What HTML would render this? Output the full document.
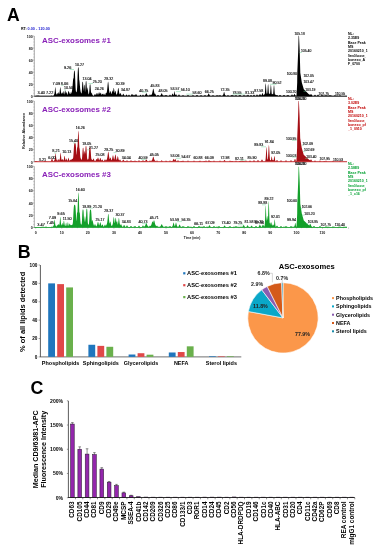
<!DOCTYPE html>
<html><head><meta charset="utf-8"><title>Figure</title>
<style>
html,body{margin:0;padding:0;background:#fff;}
body{width:378px;height:550px;overflow:hidden;}
svg{display:block;font-family:"Liberation Sans",Arial,sans-serif;}
</style></head><body>
<svg width="378" height="550" viewBox="0 0 378 550">
<rect x="0" y="0" width="378" height="550" fill="#fff"/>
<text x="7.00" y="20.60" font-size="17.60" font-weight="bold" fill="#000" text-anchor="start">A</text>
<text x="17.70" y="257.80" font-size="17.80" font-weight="bold" fill="#000" text-anchor="start">B</text>
<text x="30.60" y="393.50" font-size="17.80" font-weight="bold" fill="#000" text-anchor="start">C</text>
<text x="21.00" y="30.20" font-size="4.10" font-weight="bold" fill="#000" text-anchor="start" textLength="5.60" lengthAdjust="spacingAndGlyphs">RT:</text>
<text x="27.60" y="30.20" font-size="4.10" font-weight="bold" fill="#2020d0" text-anchor="start" textLength="22.40" lengthAdjust="spacingAndGlyphs">0.00 - 120.00</text>
<path d="M34.60 96.30 L34.60 95.78 L34.80 95.76 L35.00 95.74 L35.20 95.72 L35.40 95.71 L35.60 95.69 L35.80 95.67 L36.00 95.66 L36.20 95.64 L36.40 95.62 L36.60 95.60 L36.80 95.60 L37.00 95.60 L37.20 95.60 L37.40 95.60 L37.60 95.60 L37.80 95.61 L38.00 95.61 L38.20 95.61 L38.40 95.61 L38.60 95.61 L38.80 95.62 L39.00 95.62 L39.20 95.62 L39.40 95.63 L39.60 95.65 L39.80 95.66 L40.00 95.67 L40.20 95.68 L40.40 95.69 L40.60 95.71 L40.80 95.72 L41.00 95.73 L41.20 95.74 L41.40 95.76 L41.60 95.77 L41.80 95.77 L42.00 95.76 L42.20 95.76 L42.40 95.75 L42.60 95.75 L42.80 95.74 L43.00 95.74 L43.20 95.73 L43.40 95.72 L43.60 95.72 L43.80 95.71 L44.00 95.71 L44.20 95.70 L44.40 95.70 L44.60 95.70 L44.80 95.70 L45.00 95.71 L45.20 95.71 L45.40 95.71 L45.60 95.71 L45.80 95.71 L46.00 95.71 L46.20 95.71 L46.40 95.71 L46.60 95.71 L46.80 95.71 L47.00 95.71 L47.20 95.70 L47.40 95.70 L47.60 95.69 L47.80 95.69 L48.00 95.68 L48.20 95.68 L48.40 95.67 L48.60 95.67 L48.80 95.66 L49.00 95.66 L49.20 95.65 L49.40 95.65 L49.60 95.65 L49.80 95.64 L50.00 95.64 L50.20 95.64 L50.40 95.63 L50.60 95.63 L50.80 95.63 L51.00 95.62 L51.20 95.62 L51.40 95.62 L51.60 95.62 L51.80 95.62 L52.00 95.64 L52.20 95.66 L52.40 95.67 L52.60 95.69 L52.80 95.71 L53.00 95.72 L53.20 95.74 L53.40 95.66 L53.60 95.41 L53.80 95.11 L54.00 94.77 L54.20 94.36 L54.40 93.80 L54.60 92.84 L54.80 91.16 L55.00 88.91 L55.20 87.16 L55.40 87.16 L55.60 88.91 L55.80 91.16 L56.00 92.84 L56.20 93.80 L56.40 94.36 L56.60 94.77 L56.80 94.26 L57.00 93.56 L57.20 93.07 L57.40 93.07 L57.60 93.56 L57.80 94.26 L58.00 94.38 L58.20 93.45 L58.40 92.45 L58.60 92.00 L58.80 92.45 L59.00 93.45 L59.20 94.05 L59.40 93.39 L59.60 92.29 L59.80 90.61 L60.00 88.67 L60.20 87.30 L60.40 87.30 L60.60 88.67 L60.80 90.61 L61.00 92.29 L61.20 93.39 L61.40 94.05 L61.60 93.54 L61.80 92.81 L62.00 92.50 L62.20 92.81 L62.40 93.54 L62.60 93.54 L62.80 92.46 L63.00 91.43 L63.20 91.00 L63.40 91.43 L63.60 92.46 L63.80 93.54 L64.00 94.35 L64.20 94.41 L64.40 93.78 L64.60 92.85 L64.80 91.74 L65.00 90.78 L65.20 90.40 L65.40 90.78 L65.60 91.74 L65.80 92.85 L66.00 93.78 L66.20 92.76 L66.40 91.92 L66.60 91.92 L66.80 92.76 L67.00 93.84 L67.20 94.64 L67.40 94.74 L67.60 94.27 L67.80 93.55 L68.00 92.57 L68.20 91.56 L68.40 90.89 L68.60 90.89 L68.80 91.56 L69.00 92.57 L69.20 93.55 L69.40 94.06 L69.60 93.18 L69.80 92.35 L70.00 92.00 L70.20 92.35 L70.40 93.18 L70.60 94.06 L70.80 94.04 L71.00 93.66 L71.20 93.25 L71.40 92.80 L71.60 92.28 L71.80 91.65 L72.00 90.78 L72.20 89.56 L72.40 87.84 L72.60 85.61 L72.80 83.03 L73.00 80.53 L73.20 78.68 L73.40 78.00 L73.60 78.68 L73.80 74.58 L74.00 71.82 L74.20 70.68 L74.40 70.50 L74.60 70.68 L74.80 71.82 L75.00 74.58 L75.20 78.90 L75.40 83.80 L75.60 87.93 L75.80 90.53 L76.00 91.79 L76.20 92.34 L76.40 92.23 L76.60 91.87 L76.80 91.23 L77.00 89.68 L77.20 86.36 L77.40 81.17 L77.60 75.32 L77.80 70.64 L78.00 68.08 L78.20 67.33 L78.40 67.33 L78.60 68.08 L78.80 70.64 L79.00 75.32 L79.20 80.00 L79.40 80.61 L79.60 82.25 L79.80 84.48 L80.00 86.78 L80.20 88.77 L80.40 90.30 L80.60 91.39 L80.80 92.15 L81.00 92.72 L81.20 93.18 L81.40 93.58 L81.60 93.32 L81.80 91.53 L82.00 88.26 L82.20 84.67 L82.40 82.35 L82.60 81.63 L82.80 81.63 L83.00 82.35 L83.20 84.67 L83.40 88.26 L83.60 91.53 L83.80 88.54 L84.00 85.79 L84.20 84.84 L84.40 84.84 L84.60 85.79 L84.80 88.54 L85.00 91.90 L85.20 91.34 L85.40 87.93 L85.60 84.19 L85.80 81.78 L86.00 81.03 L86.20 81.03 L86.40 81.78 L86.60 84.19 L86.80 87.93 L87.00 90.80 L87.20 88.91 L87.40 87.59 L87.60 87.59 L87.80 88.91 L88.00 90.80 L88.20 92.42 L88.40 93.49 L88.60 94.12 L88.80 94.38 L89.00 93.85 L89.20 92.37 L89.40 89.68 L89.60 86.72 L89.80 84.82 L90.00 84.23 L90.20 84.23 L90.40 84.82 L90.60 86.72 L90.80 89.68 L91.00 92.37 L91.20 93.85 L91.40 93.15 L91.60 92.58 L91.80 92.58 L92.00 93.15 L92.20 93.95 L92.40 94.64 L92.60 95.10 L92.80 95.37 L93.00 95.55 L93.20 95.69 L93.40 95.77 L93.60 95.75 L93.80 95.63 L94.00 95.45 L94.20 95.19 L94.40 94.83 L94.60 94.44 L94.80 94.12 L95.00 94.00 L95.20 94.12 L95.40 94.44 L95.60 94.83 L95.80 95.19 L96.00 94.97 L96.20 94.56 L96.40 94.00 L96.60 93.38 L96.80 92.89 L97.00 92.70 L97.20 92.89 L97.40 93.38 L97.60 94.00 L97.80 94.56 L98.00 94.97 L98.20 94.57 L98.40 94.01 L98.60 93.33 L98.80 92.67 L99.00 92.26 L99.20 92.26 L99.40 92.67 L99.60 93.33 L99.80 94.01 L100.00 94.29 L100.20 93.69 L100.40 93.11 L100.60 92.75 L100.80 92.75 L101.00 93.11 L101.20 93.69 L101.40 94.29 L101.60 94.78 L101.80 94.91 L102.00 94.49 L102.20 94.09 L102.40 93.83 L102.60 93.83 L102.80 94.09 L103.00 94.49 L103.20 94.91 L103.40 94.51 L103.60 94.03 L103.80 93.65 L104.00 93.50 L104.20 93.65 L104.40 94.03 L104.60 94.51 L104.80 94.94 L105.00 95.27 L105.20 94.97 L105.40 94.43 L105.60 93.69 L105.80 92.99 L106.00 92.70 L106.20 92.99 L106.40 93.19 L106.60 92.66 L106.80 91.94 L107.00 90.89 L107.20 89.36 L107.40 87.35 L107.60 85.07 L107.80 83.01 L108.00 81.77 L108.20 81.77 L108.40 83.01 L108.60 85.07 L108.80 87.35 L109.00 89.36 L109.20 90.89 L109.40 91.94 L109.60 92.66 L109.80 93.19 L110.00 92.91 L110.20 92.01 L110.40 91.28 L110.60 91.00 L110.80 91.28 L111.00 92.01 L111.20 92.91 L111.40 93.73 L111.60 94.16 L111.80 93.40 L112.00 92.37 L112.20 91.30 L112.40 90.60 L112.60 90.60 L112.80 91.30 L113.00 92.37 L113.20 91.33 L113.40 89.73 L113.60 88.35 L113.80 87.80 L114.00 88.35 L114.20 89.73 L114.40 91.33 L114.60 92.67 L114.80 93.03 L115.00 91.97 L115.20 91.06 L115.40 90.70 L115.60 91.06 L115.80 91.97 L116.00 93.03 L116.20 93.91 L116.40 94.50 L116.60 94.72 L116.80 94.43 L117.00 94.07 L117.20 93.54 L117.40 92.72 L117.60 91.56 L117.80 90.13 L118.00 88.77 L118.20 87.92 L118.40 87.92 L118.60 88.77 L118.80 90.13 L119.00 91.56 L119.20 92.72 L119.40 93.54 L119.60 94.07 L119.80 94.43 L120.00 93.91 L120.20 93.38 L120.40 93.05 L120.60 93.05 L120.80 93.38 L121.00 93.91 L121.20 94.46 L121.40 94.91 L121.60 95.23 L121.80 95.43 L122.00 95.58 L122.20 95.49 L122.40 95.25 L122.60 94.91 L122.80 94.49 L123.00 94.09 L123.20 93.83 L123.40 93.83 L123.60 94.09 L123.80 94.49 L124.00 94.91 L124.20 95.25 L124.40 95.49 L124.60 95.61 L124.80 95.62 L125.00 95.63 L125.20 95.63 L125.40 95.64 L125.60 95.54 L125.80 95.30 L126.00 94.99 L126.20 94.71 L126.40 94.52 L126.60 94.52 L126.80 94.71 L127.00 94.99 L127.20 95.30 L127.40 95.54 L127.60 95.67 L127.80 95.67 L128.00 95.67 L128.20 95.48 L128.40 95.21 L128.60 94.92 L128.80 94.69 L129.00 94.60 L129.20 94.69 L129.40 94.92 L129.60 95.21 L129.80 95.48 L130.00 95.67 L130.20 95.71 L130.40 95.72 L130.60 95.70 L130.80 95.57 L131.00 95.38 L131.20 95.09 L131.40 94.70 L131.60 94.28 L131.80 93.93 L132.00 93.80 L132.20 93.93 L132.40 94.28 L132.60 94.70 L132.80 95.09 L133.00 95.38 L133.20 95.57 L133.40 95.36 L133.60 94.99 L133.80 94.65 L134.00 94.50 L134.20 94.65 L134.40 94.99 L134.60 95.36 L134.80 95.56 L135.00 95.45 L135.20 95.19 L135.40 94.83 L135.60 94.44 L135.80 94.12 L136.00 94.00 L136.20 94.12 L136.40 94.44 L136.60 94.83 L136.80 95.19 L137.00 95.45 L137.20 95.63 L137.40 95.65 L137.60 95.67 L137.80 95.69 L138.00 95.71 L138.20 95.73 L138.40 95.74 L138.60 95.76 L138.80 95.78 L139.00 95.80 L139.20 95.81 L139.40 95.81 L139.60 95.67 L139.80 95.46 L140.00 95.21 L140.20 94.97 L140.40 94.82 L140.60 94.82 L140.80 94.97 L141.00 95.21 L141.20 95.46 L141.40 95.67 L141.60 95.75 L141.80 95.75 L142.00 95.67 L142.20 95.48 L142.40 95.21 L142.60 94.92 L142.80 94.69 L143.00 94.60 L143.20 94.69 L143.40 94.92 L143.60 95.21 L143.80 95.48 L144.00 95.64 L144.20 95.63 L144.40 95.63 L144.60 95.59 L144.80 95.47 L145.00 95.30 L145.20 95.07 L145.40 94.74 L145.60 94.34 L145.80 93.91 L146.00 93.54 L146.20 93.33 L146.40 93.33 L146.60 93.54 L146.80 93.91 L147.00 94.34 L147.20 94.74 L147.40 95.07 L147.60 95.30 L147.80 95.47 L148.00 95.59 L148.20 95.60 L148.40 95.59 L148.60 95.59 L148.80 95.58 L149.00 95.57 L149.20 95.43 L149.40 95.15 L149.60 94.84 L149.80 94.60 L150.00 94.50 L150.20 94.60 L150.40 94.84 L150.60 95.15 L150.80 95.27 L151.00 95.11 L151.20 94.92 L151.40 94.72 L151.60 94.48 L151.80 94.18 L152.00 93.75 L152.20 93.13 L152.40 92.30 L152.60 91.27 L152.80 90.17 L153.00 89.23 L153.20 88.67 L153.40 88.67 L153.60 89.23 L153.80 90.17 L154.00 91.27 L154.20 92.30 L154.40 93.13 L154.60 93.75 L154.80 93.65 L155.00 93.50 L155.20 93.65 L155.40 94.03 L155.60 94.51 L155.80 94.94 L156.00 95.27 L156.20 95.49 L156.40 95.63 L156.60 95.65 L156.80 95.65 L157.00 95.66 L157.20 95.57 L157.40 95.34 L157.60 95.09 L157.80 94.88 L158.00 94.80 L158.20 94.88 L158.40 95.09 L158.60 95.34 L158.80 95.57 L159.00 95.75 L159.20 95.76 L159.40 95.75 L159.60 95.75 L159.80 95.74 L160.00 95.67 L160.20 95.56 L160.40 95.41 L160.60 95.20 L160.80 94.88 L161.00 94.47 L161.20 94.01 L161.40 93.59 L161.60 93.33 L161.80 93.33 L162.00 93.59 L162.20 94.01 L162.40 94.47 L162.60 94.88 L162.80 95.20 L163.00 95.41 L163.20 95.56 L163.40 95.61 L163.60 95.61 L163.80 95.60 L164.00 95.59 L164.20 95.59 L164.40 95.59 L164.60 95.59 L164.80 95.59 L165.00 95.59 L165.20 95.57 L165.40 95.34 L165.60 95.09 L165.80 94.88 L166.00 94.80 L166.20 94.88 L166.40 95.09 L166.60 95.34 L166.80 95.57 L167.00 95.61 L167.20 95.62 L167.40 95.62 L167.60 95.63 L167.80 95.64 L168.00 95.65 L168.20 95.66 L168.40 95.67 L168.60 95.67 L168.80 95.68 L169.00 95.67 L169.20 95.48 L169.40 95.21 L169.60 94.92 L169.80 94.69 L170.00 94.60 L170.20 94.69 L170.40 94.92 L170.60 95.21 L170.80 95.48 L171.00 95.67 L171.20 95.68 L171.40 95.61 L171.60 95.42 L171.80 95.08 L172.00 94.57 L172.20 93.98 L172.40 93.56 L172.60 93.56 L172.80 93.98 L173.00 94.57 L173.20 95.08 L173.40 95.29 L173.60 94.95 L173.80 94.35 L174.00 93.20 L174.20 91.73 L174.40 91.00 L174.60 91.73 L174.80 93.20 L175.00 94.35 L175.20 94.95 L175.40 95.10 L175.60 94.63 L175.80 94.19 L176.00 94.00 L176.20 94.19 L176.40 94.63 L176.60 95.10 L176.80 95.45 L177.00 95.67 L177.20 95.74 L177.40 95.73 L177.60 95.72 L177.80 95.70 L178.00 95.64 L178.20 95.43 L178.40 95.15 L178.60 94.84 L178.80 94.60 L179.00 94.50 L179.20 94.60 L179.40 94.84 L179.60 95.15 L179.80 95.43 L180.00 95.64 L180.20 95.66 L180.40 95.67 L180.60 95.68 L180.80 95.68 L181.00 95.69 L181.20 95.70 L181.40 95.71 L181.60 95.72 L181.80 95.73 L182.00 95.73 L182.20 95.67 L182.40 95.47 L182.60 95.25 L182.80 95.07 L183.00 95.00 L183.20 95.07 L183.40 95.25 L183.60 95.47 L183.80 95.67 L184.00 95.79 L184.20 95.80 L184.40 95.79 L184.60 95.78 L184.80 95.77 L185.00 95.76 L185.20 95.75 L185.40 95.74 L185.60 95.73 L185.80 95.73 L186.00 95.72 L186.20 95.71 L186.40 95.70 L186.60 95.69 L186.80 95.68 L187.00 95.68 L187.20 95.62 L187.40 95.40 L187.60 95.17 L187.80 94.97 L188.00 94.90 L188.20 94.97 L188.40 95.17 L188.60 95.40 L188.80 95.62 L189.00 95.64 L189.20 95.64 L189.40 95.64 L189.60 95.64 L189.80 95.64 L190.00 95.64 L190.20 95.64 L190.40 95.64 L190.60 95.64 L190.80 95.64 L191.00 95.65 L191.20 95.65 L191.40 95.65 L191.60 95.65 L191.80 95.65 L192.00 95.66 L192.20 95.67 L192.40 95.47 L192.60 95.25 L192.80 95.07 L193.00 95.00 L193.20 95.07 L193.40 95.25 L193.60 95.47 L193.80 95.67 L194.00 95.73 L194.20 95.74 L194.40 95.74 L194.60 95.73 L194.80 95.73 L195.00 95.73 L195.20 95.73 L195.40 95.73 L195.60 95.73 L195.80 95.73 L196.00 95.72 L196.20 95.57 L196.40 95.34 L196.60 95.09 L196.80 94.88 L197.00 94.80 L197.20 94.88 L197.40 95.09 L197.60 95.34 L197.80 95.57 L198.00 95.71 L198.20 95.71 L198.40 95.70 L198.60 95.70 L198.80 95.70 L199.00 95.70 L199.20 95.70 L199.40 95.69 L199.60 95.68 L199.80 95.68 L200.00 95.67 L200.20 95.67 L200.40 95.47 L200.60 95.25 L200.80 95.07 L201.00 95.00 L201.20 95.07 L201.40 95.25 L201.60 95.47 L201.80 95.62 L202.00 95.63 L202.20 95.63 L202.40 95.64 L202.60 95.64 L202.80 95.65 L203.00 95.66 L203.20 95.66 L203.40 95.67 L203.60 95.68 L203.80 95.68 L204.00 95.69 L204.20 95.62 L204.40 95.40 L204.60 95.17 L204.80 94.97 L205.00 94.90 L205.20 94.97 L205.40 95.17 L205.60 95.40 L205.80 95.62 L206.00 95.72 L206.20 95.72 L206.40 95.73 L206.60 95.73 L206.80 95.73 L207.00 95.73 L207.20 95.69 L207.40 95.56 L207.60 95.39 L207.80 95.12 L208.00 94.74 L208.20 94.27 L208.40 93.82 L208.60 93.54 L208.80 93.54 L209.00 93.82 L209.20 94.27 L209.40 94.74 L209.60 95.12 L209.80 95.39 L210.00 95.56 L210.20 95.69 L210.40 95.77 L210.60 95.78 L210.80 95.79 L211.00 95.80 L211.20 95.81 L211.40 95.82 L211.60 95.84 L211.80 95.84 L212.00 95.82 L212.20 95.67 L212.40 95.47 L212.60 95.25 L212.80 95.07 L213.00 95.00 L213.20 95.07 L213.40 95.25 L213.60 95.47 L213.80 95.67 L214.00 95.82 L214.20 95.84 L214.40 95.82 L214.60 95.81 L214.80 95.79 L215.00 95.77 L215.20 95.76 L215.40 95.74 L215.60 95.73 L215.80 95.71 L216.00 95.69 L216.20 95.67 L216.40 95.47 L216.60 95.25 L216.80 95.07 L217.00 95.00 L217.20 95.07 L217.40 95.25 L217.60 95.47 L217.80 95.60 L218.00 95.60 L218.20 95.59 L218.40 95.58 L218.60 95.58 L218.80 95.57 L219.00 95.56 L219.20 95.56 L219.40 95.40 L219.60 95.17 L219.80 94.97 L220.00 94.90 L220.20 94.97 L220.40 95.17 L220.60 95.40 L220.80 95.62 L221.00 95.64 L221.20 95.65 L221.40 95.66 L221.60 95.67 L221.80 95.67 L222.00 95.68 L222.20 95.68 L222.40 95.62 L222.60 95.48 L222.80 95.31 L223.00 95.08 L223.20 94.72 L223.40 94.15 L223.60 93.39 L223.80 92.59 L224.00 92.07 L224.20 92.07 L224.40 92.59 L224.60 93.39 L224.80 94.15 L225.00 94.72 L225.20 95.08 L225.40 95.31 L225.60 95.48 L225.80 95.62 L226.00 95.74 L226.20 95.79 L226.40 95.79 L226.60 95.80 L226.80 95.79 L227.00 95.79 L227.20 95.67 L227.40 95.47 L227.60 95.25 L227.80 95.07 L228.00 95.00 L228.20 95.07 L228.40 95.25 L228.60 95.47 L228.80 95.67 L229.00 95.71 L229.20 95.70 L229.40 95.69 L229.60 95.68 L229.80 95.66 L230.00 95.65 L230.20 95.64 L230.40 95.63 L230.60 95.62 L230.80 95.61 L231.00 95.60 L231.20 95.57 L231.40 95.34 L231.60 95.09 L231.80 94.88 L232.00 94.80 L232.20 94.88 L232.40 95.09 L232.60 95.34 L232.80 95.57 L233.00 95.59 L233.20 95.59 L233.40 95.60 L233.60 95.60 L233.80 95.61 L234.00 95.61 L234.20 95.62 L234.40 95.62 L234.60 95.63 L234.80 95.64 L235.00 95.64 L235.20 95.62 L235.40 95.40 L235.60 95.17 L235.80 94.97 L236.00 94.90 L236.20 94.97 L236.40 95.17 L236.60 95.40 L236.80 95.62 L237.00 95.68 L237.20 95.67 L237.40 95.66 L237.60 95.65 L237.80 95.65 L238.00 95.64 L238.20 95.63 L238.40 95.62 L238.60 95.62 L238.80 95.61 L239.00 95.60 L239.20 95.57 L239.40 95.34 L239.60 95.09 L239.80 94.88 L240.00 94.80 L240.20 94.88 L240.40 95.09 L240.60 95.34 L240.80 95.57 L241.00 95.73 L241.20 95.74 L241.40 95.76 L241.60 95.77 L241.80 95.78 L242.00 95.77 L242.20 95.76 L242.40 95.76 L242.60 95.75 L242.80 95.74 L243.00 95.74 L243.20 95.62 L243.40 95.40 L243.60 95.17 L243.80 94.97 L244.00 94.90 L244.20 94.97 L244.40 95.17 L244.60 95.40 L244.80 95.62 L245.00 95.65 L245.20 95.64 L245.40 95.63 L245.60 95.62 L245.80 95.61 L246.00 95.60 L246.20 95.59 L246.40 95.58 L246.60 95.57 L246.80 95.57 L247.00 95.58 L247.20 95.53 L247.40 95.28 L247.60 95.00 L247.80 94.78 L248.00 94.70 L248.20 94.78 L248.40 95.00 L248.60 95.28 L248.80 95.53 L249.00 95.67 L249.20 95.68 L249.40 95.68 L249.60 95.68 L249.80 95.69 L250.00 95.69 L250.20 95.62 L250.40 95.40 L250.60 95.17 L250.80 94.97 L251.00 94.90 L251.20 94.97 L251.40 95.17 L251.60 95.40 L251.80 95.62 L252.00 95.72 L252.20 95.72 L252.40 95.73 L252.60 95.73 L252.80 95.74 L253.00 95.67 L253.20 95.48 L253.40 95.21 L253.60 94.92 L253.80 94.69 L254.00 94.60 L254.20 94.69 L254.40 94.92 L254.60 95.21 L254.80 95.48 L255.00 95.67 L255.20 95.74 L255.40 95.73 L255.60 95.72 L255.80 95.72 L256.00 95.64 L256.20 95.43 L256.40 95.15 L256.60 94.84 L256.80 94.60 L257.00 94.50 L257.20 94.60 L257.40 94.84 L257.60 95.15 L257.80 95.43 L258.00 95.62 L258.20 95.61 L258.40 95.60 L258.60 95.59 L258.80 95.58 L259.00 95.45 L259.20 95.19 L259.40 94.83 L259.60 94.44 L259.80 94.12 L260.00 94.00 L260.20 94.12 L260.40 94.44 L260.60 94.83 L260.80 95.19 L261.00 95.45 L261.20 95.43 L261.40 95.23 L261.60 94.91 L261.80 94.46 L262.00 93.91 L262.20 93.38 L262.40 93.05 L262.60 93.05 L262.80 93.38 L263.00 93.91 L263.20 94.46 L263.40 94.91 L263.60 95.23 L263.80 95.13 L264.00 94.78 L264.20 94.44 L264.40 94.23 L264.60 94.23 L264.80 94.07 L265.00 91.98 L265.20 88.92 L265.40 85.61 L265.60 83.41 L265.80 83.41 L266.00 85.61 L266.20 88.92 L266.40 91.98 L266.60 93.82 L266.80 93.54 L267.00 93.54 L267.20 93.82 L267.40 92.24 L267.60 89.37 L267.80 86.26 L268.00 84.19 L268.20 84.19 L268.40 86.26 L268.60 89.37 L268.80 92.24 L269.00 94.21 L269.20 93.82 L269.40 93.54 L269.60 93.54 L269.80 93.82 L270.00 94.27 L270.20 92.51 L270.40 89.81 L270.60 86.91 L270.80 84.97 L271.00 84.97 L271.20 86.91 L271.40 89.81 L271.60 92.51 L271.80 94.34 L272.00 94.28 L272.20 93.93 L272.40 93.80 L272.60 93.93 L272.80 94.28 L273.00 94.70 L273.20 93.64 L273.40 91.42 L273.60 88.60 L273.80 86.11 L274.00 85.10 L274.20 86.11 L274.40 88.60 L274.60 91.42 L274.80 93.64 L275.00 94.97 L275.20 94.71 L275.40 94.52 L275.60 94.52 L275.80 94.71 L276.00 94.99 L276.20 95.30 L276.40 95.34 L276.60 95.09 L276.80 94.88 L277.00 94.80 L277.20 94.88 L277.40 95.09 L277.60 95.34 L277.80 95.57 L278.00 95.69 L278.20 95.69 L278.40 95.69 L278.60 95.68 L278.80 95.68 L279.00 95.68 L279.20 95.57 L279.40 95.34 L279.60 95.09 L279.80 94.88 L280.00 94.80 L280.20 94.88 L280.40 95.09 L280.60 95.34 L280.80 95.57 L281.00 95.71 L281.20 95.71 L281.40 95.72 L281.60 95.72 L281.80 95.73 L282.00 95.74 L282.20 95.74 L282.40 95.75 L282.60 95.76 L282.80 95.77 L283.00 95.75 L283.20 95.57 L283.40 95.34 L283.60 95.09 L283.80 94.88 L284.00 94.80 L284.20 94.88 L284.40 95.09 L284.60 95.34 L284.80 95.57 L285.00 95.75 L285.20 95.74 L285.40 95.72 L285.60 95.70 L285.80 95.68 L286.00 95.66 L286.20 95.64 L286.40 95.62 L286.60 95.60 L286.80 95.59 L287.00 95.60 L287.20 95.57 L287.40 95.34 L287.60 95.09 L287.80 94.88 L288.00 94.80 L288.20 94.88 L288.40 95.09 L288.60 95.34 L288.80 95.57 L289.00 95.67 L289.20 95.68 L289.40 95.69 L289.60 95.70 L289.80 95.71 L290.00 95.71 L290.20 95.72 L290.40 95.73 L290.60 95.74 L290.80 95.75 L291.00 95.64 L291.20 95.43 L291.40 95.15 L291.60 94.84 L291.80 94.60 L292.00 94.50 L292.20 94.60 L292.40 94.84 L292.60 95.15 L292.80 95.43 L293.00 95.64 L293.20 95.70 L293.40 95.55 L293.60 95.33 L293.80 95.02 L294.00 94.63 L294.20 94.26 L294.40 94.03 L294.60 94.03 L294.80 94.26 L295.00 94.63 L295.20 95.02 L295.40 95.33 L295.60 95.55 L295.80 95.70 L296.00 95.70 L296.20 95.70 L296.40 95.70 L296.60 95.70 L296.80 95.71 L297.00 95.71 L297.20 95.71 L297.40 95.72 L297.60 95.72 L297.80 95.72 L298.00 95.72 L298.20 95.73 L298.40 95.73 L298.60 95.73 L298.80 95.74 L299.00 95.74 L299.20 95.74 L299.40 95.74 L299.60 95.74 L299.80 95.74 L300.00 95.74 L300.20 95.74 L300.40 95.74 L300.60 95.74 L300.80 95.75 L301.00 95.75 L301.20 95.75 L301.40 95.75 L301.60 95.75 L301.80 95.74 L302.00 95.74 L302.20 95.73 L302.40 95.73 L302.60 95.73 L302.80 95.72 L303.00 95.72 L303.20 95.71 L303.40 95.71 L303.60 95.70 L303.80 95.70 L304.00 95.69 L304.20 95.69 L304.40 95.69 L304.60 95.68 L304.80 95.68 L305.00 95.68 L305.20 95.68 L305.40 95.68 L305.60 95.67 L305.80 95.67 L306.00 95.67 L306.20 95.67 L306.40 95.67 L306.60 95.66 L306.80 95.66 L307.00 95.66 L307.20 95.66 L307.40 95.66 L307.60 95.66 L307.80 95.66 L308.00 95.66 L308.20 95.66 L308.40 95.67 L308.60 95.67 L308.80 95.67 L309.00 95.67 L309.20 95.67 L309.40 95.67 L309.60 95.61 L309.80 95.45 L310.00 95.24 L310.20 94.96 L310.40 94.63 L310.60 94.32 L310.80 94.09 L311.00 94.00 L311.20 94.09 L311.40 94.32 L311.60 94.63 L311.80 94.96 L312.00 95.24 L312.20 95.45 L312.40 95.61 L312.60 95.72 L312.80 95.77 L313.00 95.78 L313.20 95.79 L313.40 95.80 L313.60 95.81 L313.80 95.82 L314.00 95.71 L314.20 95.53 L314.40 95.28 L314.60 95.00 L314.80 94.78 L315.00 94.70 L315.20 94.78 L315.40 95.00 L315.60 95.28 L315.80 95.53 L316.00 95.71 L316.20 95.79 L316.40 95.79 L316.60 95.78 L316.80 95.78 L317.00 95.67 L317.20 95.48 L317.40 95.21 L317.60 94.92 L317.80 94.69 L318.00 94.60 L318.20 94.69 L318.40 94.92 L318.60 95.21 L318.80 95.48 L319.00 95.67 L319.20 95.80 L319.40 95.79 L319.60 95.78 L319.80 95.77 L320.00 95.76 L320.20 95.75 L320.40 95.74 L320.60 95.73 L320.80 95.72 L321.00 95.71 L321.20 95.57 L321.40 95.34 L321.60 95.09 L321.80 94.88 L322.00 94.80 L322.20 94.88 L322.40 95.09 L322.60 95.34 L322.80 95.57 L323.00 95.63 L323.20 95.62 L323.40 95.62 L323.60 95.61 L323.80 95.60 L324.00 95.60 L324.20 95.59 L324.40 95.59 L324.60 95.59 L324.80 95.60 L325.00 95.60 L325.20 95.60 L325.40 95.40 L325.60 95.17 L325.80 94.97 L326.00 94.90 L326.20 94.97 L326.40 95.17 L326.60 95.40 L326.80 95.61 L327.00 95.61 L327.20 95.61 L327.40 95.61 L327.60 95.61 L327.80 95.61 L328.00 95.61 L328.20 95.61 L328.40 95.61 L328.60 95.61 L328.80 95.61 L329.00 95.61 L329.20 95.61 L329.40 95.47 L329.60 95.25 L329.80 95.07 L330.00 95.00 L330.20 95.07 L330.40 95.25 L330.60 95.47 L330.80 95.61 L331.00 95.61 L331.20 95.61 L331.40 95.61 L331.60 95.61 L331.80 95.61 L332.00 95.63 L332.20 95.64 L332.40 95.65 L332.60 95.67 L332.80 95.68 L333.00 95.69 L333.20 95.71 L333.40 95.72 L333.60 95.73 L333.80 95.75 L334.00 95.76 L334.20 95.67 L334.40 95.47 L334.60 95.25 L334.80 95.07 L335.00 95.00 L335.20 95.07 L335.40 95.25 L335.60 95.47 L335.80 95.66 L336.00 95.65 L336.20 95.63 L336.40 95.62 L336.60 95.60 L336.80 95.60 L337.00 95.60 L337.20 95.61 L337.40 95.61 L337.60 95.62 L337.80 95.62 L338.00 95.62 L338.20 95.63 L338.40 95.63 L338.60 95.64 L338.80 95.64 L339.00 95.64 L339.20 95.65 L339.40 95.53 L339.60 95.33 L339.80 95.16 L340.00 95.10 L340.20 95.16 L340.40 95.33 L340.60 95.53 L340.80 95.72 L341.00 95.78 L341.20 95.79 L341.40 95.80 L341.60 95.82 L341.80 95.83 L342.00 95.83 L342.20 95.83 L342.40 95.83 L342.60 95.83 L342.80 95.83 L343.00 95.84 L343.20 95.84 L343.40 95.84 L343.60 95.84 L343.80 95.84 L344.00 95.84 L344.20 95.84 L344.40 95.85 L344.60 95.85 L344.80 95.85 L345.00 95.85 L345.20 95.85 L345.40 95.85 L345.60 95.85 L345.80 95.85 L346.00 95.85 L346.20 95.85 L346.40 95.85 L346.60 95.85 L346.80 95.84 L347.00 95.82 L347.00 96.30 Z" fill="#000000"/>
<path d="M296.40 96.30 L296.60 93.88 L296.90 89.34 L297.20 82.38 L297.30 72.70 L298.20 50.92 L298.60 35.80 L299.00 35.80 L299.70 50.92 L300.30 72.70 L301.80 82.38 L303.80 89.34 L308.60 93.88 L312.10 96.30 Z" fill="#000000"/>
<line x1="34.20" y1="96.30" x2="347.00" y2="96.30" stroke="#000000" stroke-width="0.70"/>
<line x1="34.30" y1="36.00" x2="34.30" y2="96.30" stroke="#555" stroke-width="0.50"/>
<line x1="33.00" y1="96.30" x2="34.20" y2="96.30" stroke="#444" stroke-width="0.35"/>
<line x1="33.50" y1="93.28" x2="34.20" y2="93.28" stroke="#444" stroke-width="0.35"/>
<line x1="33.50" y1="90.27" x2="34.20" y2="90.27" stroke="#444" stroke-width="0.35"/>
<line x1="33.50" y1="87.25" x2="34.20" y2="87.25" stroke="#444" stroke-width="0.35"/>
<line x1="33.00" y1="84.24" x2="34.20" y2="84.24" stroke="#444" stroke-width="0.35"/>
<line x1="33.50" y1="81.22" x2="34.20" y2="81.22" stroke="#444" stroke-width="0.35"/>
<line x1="33.50" y1="78.21" x2="34.20" y2="78.21" stroke="#444" stroke-width="0.35"/>
<line x1="33.50" y1="75.19" x2="34.20" y2="75.19" stroke="#444" stroke-width="0.35"/>
<line x1="33.00" y1="72.18" x2="34.20" y2="72.18" stroke="#444" stroke-width="0.35"/>
<line x1="33.50" y1="69.16" x2="34.20" y2="69.16" stroke="#444" stroke-width="0.35"/>
<line x1="33.50" y1="66.15" x2="34.20" y2="66.15" stroke="#444" stroke-width="0.35"/>
<line x1="33.50" y1="63.13" x2="34.20" y2="63.13" stroke="#444" stroke-width="0.35"/>
<line x1="33.00" y1="60.12" x2="34.20" y2="60.12" stroke="#444" stroke-width="0.35"/>
<line x1="33.50" y1="57.10" x2="34.20" y2="57.10" stroke="#444" stroke-width="0.35"/>
<line x1="33.50" y1="54.09" x2="34.20" y2="54.09" stroke="#444" stroke-width="0.35"/>
<line x1="33.50" y1="51.07" x2="34.20" y2="51.07" stroke="#444" stroke-width="0.35"/>
<line x1="33.00" y1="48.06" x2="34.20" y2="48.06" stroke="#444" stroke-width="0.35"/>
<line x1="33.50" y1="45.05" x2="34.20" y2="45.05" stroke="#444" stroke-width="0.35"/>
<line x1="33.50" y1="42.03" x2="34.20" y2="42.03" stroke="#444" stroke-width="0.35"/>
<line x1="33.50" y1="39.01" x2="34.20" y2="39.01" stroke="#444" stroke-width="0.35"/>
<line x1="33.00" y1="36.00" x2="34.20" y2="36.00" stroke="#444" stroke-width="0.35"/>
<text x="32.70" y="98.00" font-size="3.60" font-weight="bold" fill="#111" text-anchor="end">0</text>
<text x="32.70" y="85.94" font-size="3.60" font-weight="bold" fill="#111" text-anchor="end">20</text>
<text x="32.70" y="73.88" font-size="3.60" font-weight="bold" fill="#111" text-anchor="end">40</text>
<text x="32.70" y="61.82" font-size="3.60" font-weight="bold" fill="#111" text-anchor="end">60</text>
<text x="32.70" y="49.76" font-size="3.60" font-weight="bold" fill="#111" text-anchor="end">80</text>
<text x="32.70" y="37.70" font-size="3.60" font-weight="bold" fill="#111" text-anchor="end">100</text>
<path d="M34.60 161.80 L34.60 161.06 L34.80 161.06 L35.00 161.06 L35.20 161.06 L35.40 161.06 L35.60 161.06 L35.80 161.06 L36.00 161.06 L36.20 161.07 L36.40 161.07 L36.60 161.07 L36.80 161.08 L37.00 161.10 L37.20 161.12 L37.40 161.14 L37.60 161.16 L37.80 161.18 L38.00 161.20 L38.20 161.23 L38.40 161.25 L38.60 161.27 L38.80 161.29 L39.00 161.31 L39.20 161.33 L39.40 161.33 L39.60 161.33 L39.80 161.33 L40.00 161.33 L40.20 161.33 L40.40 161.33 L40.60 161.33 L40.80 161.33 L41.00 161.33 L41.20 161.33 L41.40 161.33 L41.60 161.32 L41.80 161.32 L42.00 161.30 L42.20 161.28 L42.40 161.26 L42.60 161.24 L42.80 161.23 L43.00 161.21 L43.20 161.19 L43.40 161.17 L43.60 161.15 L43.80 161.14 L44.00 161.12 L44.20 161.10 L44.40 161.10 L44.60 161.10 L44.80 161.11 L45.00 161.11 L45.20 161.11 L45.40 161.11 L45.60 161.12 L45.80 161.12 L46.00 161.12 L46.20 161.12 L46.40 161.13 L46.60 161.13 L46.80 161.13 L47.00 161.13 L47.20 161.13 L47.40 161.13 L47.60 161.14 L47.80 161.14 L48.00 161.14 L48.20 161.14 L48.40 161.14 L48.60 161.14 L48.80 161.15 L49.00 161.15 L49.20 161.15 L49.40 161.16 L49.60 161.17 L49.80 161.18 L50.00 161.18 L50.20 161.19 L50.40 161.20 L50.60 161.21 L50.80 161.05 L51.00 160.84 L51.20 160.53 L51.40 159.97 L51.60 159.08 L51.80 158.13 L52.00 157.70 L52.20 158.13 L52.40 159.08 L52.60 159.97 L52.80 160.53 L53.00 160.84 L53.20 161.05 L53.40 161.20 L53.60 161.19 L53.80 161.10 L54.00 160.85 L54.20 160.55 L54.40 160.20 L54.60 159.77 L54.80 159.11 L55.00 157.91 L55.20 156.02 L55.40 154.01 L55.60 153.10 L55.80 154.01 L56.00 156.02 L56.20 157.91 L56.40 159.11 L56.60 159.77 L56.80 160.20 L57.00 160.55 L57.20 160.85 L57.40 160.77 L57.60 160.34 L57.80 159.77 L58.00 159.23 L58.20 159.00 L58.40 159.23 L58.60 159.77 L58.80 160.34 L59.00 160.77 L59.20 160.45 L59.40 160.07 L59.60 159.61 L59.80 158.89 L60.00 157.60 L60.20 155.56 L60.40 153.38 L60.60 152.40 L60.80 153.38 L61.00 155.56 L61.20 157.60 L61.40 158.89 L61.60 159.61 L61.80 160.07 L62.00 160.07 L62.20 159.48 L62.40 159.06 L62.60 159.06 L62.80 159.48 L63.00 160.07 L63.20 160.58 L63.40 160.46 L63.60 160.12 L63.80 159.55 L64.00 158.63 L64.20 157.38 L64.40 156.20 L64.60 155.70 L64.80 156.20 L65.00 157.38 L65.20 158.63 L65.40 159.55 L65.60 160.12 L65.80 160.46 L66.00 159.94 L66.20 159.13 L66.40 158.49 L66.60 158.49 L66.80 159.13 L67.00 159.94 L67.20 160.55 L67.40 160.80 L67.60 160.50 L67.80 160.01 L68.00 159.26 L68.20 158.40 L68.40 157.79 L68.60 157.79 L68.80 158.40 L69.00 159.26 L69.20 160.01 L69.40 160.50 L69.60 160.68 L69.80 160.57 L70.00 160.38 L70.20 159.89 L70.40 159.55 L70.60 159.55 L70.80 159.89 L71.00 159.86 L71.20 159.73 L71.40 159.60 L71.60 159.47 L71.80 159.33 L72.00 159.21 L72.20 159.08 L72.40 158.95 L72.60 158.83 L72.80 158.69 L73.00 158.37 L73.20 157.49 L73.40 155.55 L73.60 152.55 L73.80 149.19 L74.00 146.35 L74.20 144.48 L74.40 143.53 L74.60 143.18 L74.80 143.11 L75.00 143.10 L75.20 143.13 L75.40 143.31 L75.60 143.91 L75.80 145.29 L76.00 147.66 L76.20 150.85 L76.40 154.15 L76.60 154.70 L76.80 151.82 L77.00 149.01 L77.20 147.24 L77.40 147.24 L77.60 145.11 L77.80 140.23 L78.00 135.45 L78.20 131.91 L78.40 130.60 L78.60 131.91 L78.80 135.45 L79.00 140.23 L79.20 145.11 L79.40 148.22 L79.60 148.22 L79.80 149.87 L80.00 152.49 L80.20 155.18 L80.40 157.31 L80.60 158.08 L80.80 158.59 L81.00 159.05 L81.20 159.47 L81.40 159.85 L81.60 159.69 L81.80 159.35 L82.00 158.42 L82.20 156.31 L82.40 153.18 L82.60 150.17 L82.80 148.37 L83.00 147.82 L83.20 147.82 L83.40 148.37 L83.60 150.17 L83.80 153.18 L84.00 154.88 L84.20 152.96 L84.40 151.53 L84.60 151.00 L84.80 151.53 L85.00 152.96 L85.20 153.82 L85.40 150.11 L85.60 147.27 L85.80 146.00 L86.00 145.80 L86.20 146.00 L86.40 147.27 L86.60 150.11 L86.80 153.82 L87.00 156.92 L87.20 158.60 L87.40 159.24 L87.60 159.51 L87.80 159.63 L88.00 159.50 L88.20 159.37 L88.40 159.03 L88.60 157.85 L88.80 155.24 L89.00 151.89 L89.20 149.16 L89.40 147.70 L89.60 147.19 L89.80 147.10 L90.00 147.10 L90.20 147.19 L90.40 147.70 L90.60 149.16 L90.80 151.89 L91.00 155.24 L91.20 157.85 L91.40 159.03 L91.60 159.37 L91.80 159.50 L92.00 159.63 L92.20 159.75 L92.40 159.88 L92.60 160.02 L92.80 159.96 L93.00 159.41 L93.20 158.88 L93.40 158.55 L93.60 158.55 L93.80 158.88 L94.00 159.41 L94.20 159.96 L94.40 160.41 L94.60 160.73 L94.80 160.93 L95.00 161.08 L95.20 161.06 L95.40 160.89 L95.60 160.62 L95.80 160.24 L96.00 159.77 L96.20 159.32 L96.40 159.04 L96.60 159.04 L96.80 159.32 L97.00 159.77 L97.20 159.49 L97.40 158.85 L97.60 158.19 L97.80 157.69 L98.00 157.50 L98.20 157.69 L98.40 158.19 L98.60 158.85 L98.80 159.49 L99.00 160.01 L99.20 160.39 L99.40 160.01 L99.60 159.49 L99.80 158.90 L100.00 158.36 L100.20 158.04 L100.40 158.04 L100.60 158.36 L100.80 158.90 L101.00 159.49 L101.20 160.01 L101.40 160.40 L101.60 160.52 L101.80 160.13 L102.00 159.76 L102.20 159.53 L102.40 159.53 L102.60 159.76 L102.80 160.13 L103.00 160.52 L103.20 160.83 L103.40 161.05 L103.60 161.20 L103.80 161.07 L104.00 160.88 L104.20 160.59 L104.40 160.20 L104.60 159.78 L104.80 159.43 L105.00 159.30 L105.20 159.43 L105.40 159.78 L105.60 160.20 L105.80 160.59 L106.00 160.46 L106.20 160.22 L106.40 159.96 L106.60 159.67 L106.80 159.30 L107.00 158.81 L107.20 158.08 L107.40 157.03 L107.60 155.65 L107.80 154.08 L108.00 152.67 L108.20 151.81 L108.40 151.81 L108.60 152.67 L108.80 154.08 L109.00 155.65 L109.20 157.03 L109.40 158.08 L109.60 158.81 L109.80 159.30 L110.00 158.68 L110.20 157.99 L110.40 157.56 L110.60 157.56 L110.80 157.99 L111.00 158.68 L111.20 159.40 L111.40 159.99 L111.60 160.22 L111.80 159.88 L112.00 159.37 L112.20 158.60 L112.40 157.58 L112.60 156.46 L112.80 155.55 L113.00 155.20 L113.20 155.55 L113.40 156.46 L113.60 157.58 L113.80 158.60 L114.00 159.37 L114.20 159.65 L114.40 159.08 L114.60 158.22 L114.80 157.07 L115.00 155.81 L115.20 154.79 L115.40 154.40 L115.60 154.79 L115.80 155.81 L116.00 157.07 L116.20 158.22 L116.40 159.08 L116.60 159.65 L116.80 159.94 L117.00 159.32 L117.20 158.41 L117.40 157.32 L117.60 156.38 L117.80 156.00 L118.00 156.38 L118.20 157.32 L118.40 158.41 L118.60 159.32 L118.80 159.94 L119.00 160.32 L119.20 160.58 L119.40 160.33 L119.60 159.94 L119.80 159.62 L120.00 159.50 L120.20 159.62 L120.40 159.94 L120.60 160.33 L120.80 160.69 L121.00 160.95 L121.20 161.13 L121.40 161.25 L121.60 161.29 L121.80 161.29 L122.00 161.22 L122.20 161.08 L122.40 160.87 L122.60 160.57 L122.80 160.20 L123.00 159.85 L123.20 159.63 L123.40 159.63 L123.60 159.85 L123.80 160.20 L124.00 160.57 L124.20 160.87 L124.40 161.08 L124.60 161.09 L124.80 161.09 L125.00 161.09 L125.20 161.09 L125.40 161.10 L125.60 161.10 L125.80 161.10 L126.00 161.10 L126.20 161.07 L126.40 160.84 L126.60 160.59 L126.80 160.38 L127.00 160.30 L127.20 160.38 L127.40 160.59 L127.60 160.84 L127.80 161.07 L128.00 161.12 L128.20 161.12 L128.40 161.12 L128.60 161.13 L128.80 161.13 L129.00 161.13 L129.20 161.13 L129.40 161.13 L129.60 161.12 L129.80 161.12 L130.00 161.11 L130.20 161.07 L130.40 160.84 L130.60 160.59 L130.80 160.38 L131.00 160.30 L131.20 160.38 L131.40 160.59 L131.60 160.84 L131.80 161.07 L132.00 161.08 L132.20 161.09 L132.40 161.09 L132.60 161.09 L132.80 161.10 L133.00 161.10 L133.20 161.10 L133.40 161.11 L133.60 161.11 L133.80 161.11 L134.00 161.12 L134.20 161.12 L134.40 160.97 L134.60 160.75 L134.80 160.57 L135.00 160.50 L135.20 160.57 L135.40 160.75 L135.60 160.97 L135.80 161.12 L136.00 161.12 L136.20 161.11 L136.40 161.11 L136.60 161.11 L136.80 161.12 L137.00 161.13 L137.20 161.14 L137.40 161.15 L137.60 161.16 L137.80 161.17 L138.00 161.18 L138.20 161.07 L138.40 160.84 L138.60 160.59 L138.80 160.38 L139.00 160.30 L139.20 160.38 L139.40 160.59 L139.60 160.84 L139.80 161.07 L140.00 161.18 L140.20 161.17 L140.40 161.15 L140.60 161.14 L140.80 161.12 L141.00 161.11 L141.20 161.09 L141.40 161.08 L141.60 161.06 L141.80 161.06 L142.00 161.06 L142.20 161.03 L142.40 160.78 L142.60 160.50 L142.80 160.28 L143.00 160.20 L143.20 160.28 L143.40 160.50 L143.60 160.78 L143.80 161.03 L144.00 161.06 L144.20 161.06 L144.40 161.08 L144.60 161.10 L144.80 161.12 L145.00 161.07 L145.20 160.89 L145.40 160.66 L145.60 160.36 L145.80 160.05 L146.00 159.78 L146.20 159.62 L146.40 159.62 L146.60 159.78 L146.80 160.05 L147.00 160.36 L147.20 160.66 L147.40 160.89 L147.60 161.07 L147.80 161.19 L148.00 161.21 L148.20 161.19 L148.40 161.18 L148.60 161.17 L148.80 161.15 L149.00 161.14 L149.20 161.12 L149.40 160.90 L149.60 160.67 L149.80 160.47 L150.00 160.40 L150.20 160.47 L150.40 160.67 L150.60 160.90 L150.80 161.12 L151.00 161.01 L151.20 160.89 L151.40 160.76 L151.60 160.60 L151.80 160.39 L152.00 160.11 L152.20 159.70 L152.40 159.15 L152.60 158.47 L152.80 157.74 L153.00 157.11 L153.20 156.75 L153.40 156.75 L153.60 157.11 L153.80 157.74 L154.00 158.47 L154.20 159.15 L154.40 159.70 L154.60 160.11 L154.80 160.39 L155.00 160.60 L155.20 160.76 L155.40 160.89 L155.60 161.01 L155.80 161.12 L156.00 161.20 L156.20 161.17 L156.40 160.97 L156.60 160.75 L156.80 160.57 L157.00 160.50 L157.20 160.57 L157.40 160.75 L157.60 160.97 L157.80 161.17 L158.00 161.20 L158.20 161.20 L158.40 161.20 L158.60 161.20 L158.80 161.20 L159.00 161.20 L159.20 161.20 L159.40 161.19 L159.60 161.18 L159.80 161.17 L160.00 161.16 L160.20 161.15 L160.40 161.14 L160.60 161.13 L160.80 161.12 L161.00 160.91 L161.20 160.64 L161.40 160.38 L161.60 160.22 L161.80 160.22 L162.00 160.38 L162.20 160.64 L162.40 160.91 L162.60 161.12 L162.80 161.13 L163.00 161.14 L163.20 161.15 L163.40 161.16 L163.60 161.17 L163.80 161.18 L164.00 161.19 L164.20 161.20 L164.40 161.19 L164.60 161.18 L164.80 161.18 L165.00 161.17 L165.20 161.16 L165.40 161.03 L165.60 160.83 L165.80 160.66 L166.00 160.60 L166.20 160.66 L166.40 160.83 L166.60 161.03 L166.80 161.11 L167.00 161.12 L167.20 161.13 L167.40 161.14 L167.60 161.15 L167.80 161.16 L168.00 161.18 L168.20 161.19 L168.40 161.20 L168.60 161.21 L168.80 161.22 L169.00 161.23 L169.20 161.17 L169.40 160.97 L169.60 160.75 L169.80 160.57 L170.00 160.50 L170.20 160.57 L170.40 160.75 L170.60 160.97 L170.80 161.14 L171.00 161.13 L171.20 161.12 L171.40 161.10 L171.60 161.09 L171.80 161.08 L172.00 161.08 L172.20 161.08 L172.40 161.01 L172.60 160.80 L172.80 160.47 L173.00 159.99 L173.20 159.40 L173.40 158.90 L173.60 158.70 L173.80 158.90 L174.00 159.40 L174.20 159.99 L174.40 160.47 L174.60 160.05 L174.80 159.48 L175.00 158.99 L175.20 158.80 L175.40 158.99 L175.60 159.48 L175.80 160.05 L176.00 160.52 L176.20 160.84 L176.40 161.04 L176.60 161.17 L176.80 161.21 L177.00 161.21 L177.20 161.07 L177.40 160.84 L177.60 160.59 L177.80 160.38 L178.00 160.30 L178.20 160.38 L178.40 160.59 L178.60 160.84 L178.80 161.07 L179.00 161.18 L179.20 161.18 L179.40 161.17 L179.60 161.16 L179.80 161.15 L180.00 161.15 L180.20 161.14 L180.40 161.13 L180.60 161.12 L180.80 161.11 L181.00 161.10 L181.20 161.10 L181.40 161.09 L181.60 161.08 L181.80 161.08 L182.00 161.08 L182.20 161.09 L182.40 161.03 L182.60 160.83 L182.80 160.66 L183.00 160.60 L183.20 160.66 L183.40 160.83 L183.60 161.03 L183.80 161.12 L184.00 161.13 L184.20 161.13 L184.40 161.14 L184.60 161.14 L184.80 161.15 L185.00 161.16 L185.20 161.16 L185.40 161.17 L185.60 161.17 L185.80 161.18 L186.00 161.18 L186.20 161.19 L186.40 161.20 L186.60 161.20 L186.80 161.21 L187.00 161.21 L187.20 161.17 L187.40 160.97 L187.60 160.75 L187.80 160.57 L188.00 160.50 L188.20 160.57 L188.40 160.75 L188.60 160.97 L188.80 161.17 L189.00 161.28 L189.20 161.28 L189.40 161.28 L189.60 161.28 L189.80 161.28 L190.00 161.27 L190.20 161.27 L190.40 161.27 L190.60 161.27 L190.80 161.26 L191.00 161.26 L191.20 161.26 L191.40 161.26 L191.60 161.25 L191.80 161.25 L192.00 161.24 L192.20 161.23 L192.40 161.22 L192.60 161.21 L192.80 161.20 L193.00 161.19 L193.20 161.19 L193.40 161.03 L193.60 160.83 L193.80 160.66 L194.00 160.60 L194.20 160.66 L194.40 160.83 L194.60 161.03 L194.80 161.18 L195.00 161.19 L195.20 161.20 L195.40 161.22 L195.60 161.23 L195.80 161.24 L196.00 161.26 L196.20 161.27 L196.40 161.28 L196.60 161.29 L196.80 161.29 L197.00 161.27 L197.20 161.26 L197.40 161.24 L197.60 161.22 L197.80 161.20 L198.00 161.18 L198.20 161.17 L198.40 161.15 L198.60 161.13 L198.80 161.11 L199.00 161.10 L199.20 161.08 L199.40 161.03 L199.60 160.83 L199.80 160.66 L200.00 160.60 L200.20 160.66 L200.40 160.83 L200.60 161.03 L200.80 161.20 L201.00 161.22 L201.20 161.23 L201.40 161.25 L201.60 161.26 L201.80 161.26 L202.00 161.25 L202.20 161.23 L202.40 161.22 L202.60 161.20 L202.80 161.18 L203.00 161.17 L203.20 161.15 L203.40 161.14 L203.60 161.12 L203.80 161.11 L204.00 161.09 L204.20 161.08 L204.40 161.09 L204.60 161.11 L204.80 161.12 L205.00 161.13 L205.20 161.15 L205.40 160.97 L205.60 160.75 L205.80 160.57 L206.00 160.50 L206.20 160.57 L206.40 160.75 L206.60 160.97 L206.80 161.17 L207.00 161.23 L207.20 161.22 L207.40 161.20 L207.60 161.19 L207.80 161.17 L208.00 161.16 L208.20 161.03 L208.40 160.78 L208.60 160.50 L208.80 160.28 L209.00 160.20 L209.20 160.28 L209.40 160.50 L209.60 160.78 L209.80 161.03 L210.00 161.09 L210.20 161.09 L210.40 161.10 L210.60 161.10 L210.80 161.11 L211.00 161.12 L211.20 161.12 L211.40 161.13 L211.60 161.14 L211.80 161.14 L212.00 161.15 L212.20 161.15 L212.40 161.16 L212.60 161.16 L212.80 161.16 L213.00 161.17 L213.20 161.17 L213.40 161.03 L213.60 160.83 L213.80 160.66 L214.00 160.60 L214.20 160.66 L214.40 160.83 L214.60 161.03 L214.80 161.20 L215.00 161.20 L215.20 161.20 L215.40 161.20 L215.60 161.20 L215.80 161.20 L216.00 161.20 L216.20 161.20 L216.40 161.20 L216.60 161.19 L216.80 161.19 L217.00 161.19 L217.20 161.19 L217.40 161.18 L217.60 161.18 L217.80 161.18 L218.00 161.17 L218.20 161.17 L218.40 161.17 L218.60 161.16 L218.80 161.16 L219.00 161.16 L219.20 161.15 L219.40 161.03 L219.60 160.83 L219.80 160.66 L220.00 160.60 L220.20 160.66 L220.40 160.83 L220.60 161.03 L220.80 161.17 L221.00 161.17 L221.20 161.17 L221.40 161.17 L221.60 161.17 L221.80 161.18 L222.00 161.18 L222.20 161.19 L222.40 161.20 L222.60 161.20 L222.80 161.21 L223.00 161.22 L223.20 161.22 L223.40 161.21 L223.60 161.04 L223.80 160.80 L224.00 160.49 L224.20 160.21 L224.40 160.02 L224.60 160.02 L224.80 160.21 L225.00 160.49 L225.20 160.80 L225.40 161.04 L225.60 161.21 L225.80 161.28 L226.00 161.28 L226.20 161.28 L226.40 161.28 L226.60 161.29 L226.80 161.28 L227.00 161.28 L227.20 161.27 L227.40 161.26 L227.60 161.25 L227.80 161.25 L228.00 161.24 L228.20 161.23 L228.40 161.23 L228.60 161.22 L228.80 161.21 L229.00 161.20 L229.20 161.20 L229.40 161.03 L229.60 160.83 L229.80 160.66 L230.00 160.60 L230.20 160.66 L230.40 160.83 L230.60 161.03 L230.80 161.12 L231.00 161.11 L231.20 161.10 L231.40 161.08 L231.60 161.07 L231.80 161.07 L232.00 161.08 L232.20 161.09 L232.40 161.10 L232.60 161.10 L232.80 161.11 L233.00 161.12 L233.20 161.13 L233.40 161.13 L233.60 161.14 L233.80 161.15 L234.00 161.16 L234.20 161.16 L234.40 161.18 L234.60 161.19 L234.80 161.20 L235.00 161.22 L235.20 161.22 L235.40 161.03 L235.60 160.83 L235.80 160.66 L236.00 160.60 L236.20 160.66 L236.40 160.83 L236.60 161.03 L236.80 161.22 L237.00 161.30 L237.20 161.28 L237.40 161.26 L237.60 161.25 L237.80 161.23 L238.00 161.21 L238.20 161.19 L238.40 161.18 L238.60 161.16 L238.80 161.14 L239.00 161.12 L239.20 161.10 L239.40 161.11 L239.60 161.11 L239.80 161.11 L240.00 161.11 L240.20 161.12 L240.40 161.12 L240.60 161.12 L240.80 161.12 L241.00 161.12 L241.20 161.13 L241.40 160.97 L241.60 160.75 L241.80 160.57 L242.00 160.50 L242.20 160.57 L242.40 160.75 L242.60 160.97 L242.80 161.11 L243.00 161.10 L243.20 161.10 L243.40 161.10 L243.60 161.09 L243.80 161.09 L244.00 161.08 L244.20 161.08 L244.40 161.09 L244.60 161.11 L244.80 161.13 L245.00 161.15 L245.20 161.16 L245.40 160.97 L245.60 160.75 L245.80 160.57 L246.00 160.50 L246.20 160.57 L246.40 160.75 L246.60 160.97 L246.80 161.17 L247.00 161.27 L247.20 161.26 L247.40 161.25 L247.60 161.23 L247.80 161.22 L248.00 161.21 L248.20 161.19 L248.40 161.18 L248.60 161.17 L248.80 161.15 L249.00 161.14 L249.20 161.12 L249.40 160.90 L249.60 160.67 L249.80 160.47 L250.00 160.40 L250.20 160.47 L250.40 160.67 L250.60 160.90 L250.80 161.12 L251.00 161.27 L251.20 161.29 L251.40 161.31 L251.60 161.32 L251.80 161.33 L252.00 161.31 L252.20 161.30 L252.40 161.28 L252.60 161.27 L252.80 161.25 L253.00 161.21 L253.20 161.03 L253.40 160.78 L253.60 160.50 L253.80 160.28 L254.00 160.20 L254.20 160.28 L254.40 160.50 L254.60 160.78 L254.80 161.03 L255.00 161.19 L255.20 161.20 L255.40 161.21 L255.60 161.22 L255.80 161.23 L256.00 161.24 L256.20 161.25 L256.40 161.25 L256.60 161.26 L256.80 161.27 L257.00 161.14 L257.20 160.93 L257.40 160.65 L257.60 160.34 L257.80 160.10 L258.00 160.00 L258.20 160.10 L258.40 160.34 L258.60 160.65 L258.80 160.93 L259.00 161.14 L259.20 161.28 L259.40 161.27 L259.60 161.25 L259.80 161.24 L260.00 161.22 L260.20 161.20 L260.40 161.19 L260.60 161.17 L260.80 161.13 L261.00 160.95 L261.20 160.69 L261.40 160.33 L261.60 159.94 L261.80 159.62 L262.00 159.50 L262.20 159.62 L262.40 159.94 L262.60 160.33 L262.80 160.69 L263.00 160.95 L263.20 161.13 L263.40 161.24 L263.60 161.26 L263.80 161.28 L264.00 161.30 L264.20 161.32 L264.40 161.31 L264.60 161.30 L264.80 161.29 L265.00 161.28 L265.20 161.11 L265.40 160.55 L265.60 159.29 L265.80 156.93 L266.00 153.47 L266.20 149.74 L266.40 147.25 L266.60 147.25 L266.80 149.74 L267.00 153.47 L267.20 156.93 L267.40 159.29 L267.60 159.53 L267.80 159.53 L268.00 157.92 L268.20 155.02 L268.40 151.26 L268.60 147.56 L268.80 145.22 L269.00 145.22 L269.20 147.56 L269.40 151.26 L269.60 155.02 L269.80 157.92 L270.00 159.73 L270.20 160.02 L270.40 160.02 L270.60 160.21 L270.80 160.49 L271.00 160.03 L271.20 158.78 L271.40 157.43 L271.60 156.53 L271.80 156.53 L272.00 157.43 L272.20 158.78 L272.40 160.03 L272.60 160.34 L272.80 160.10 L273.00 160.00 L273.20 160.10 L273.40 160.34 L273.60 160.42 L273.80 159.27 L274.00 157.81 L274.20 156.52 L274.40 156.00 L274.60 156.52 L274.80 157.81 L275.00 159.27 L275.20 160.42 L275.40 161.11 L275.60 161.17 L275.80 161.16 L276.00 161.14 L276.20 160.93 L276.40 160.65 L276.60 160.34 L276.80 160.10 L277.00 160.00 L277.20 160.10 L277.40 160.34 L277.60 160.65 L277.80 160.93 L278.00 161.14 L278.20 161.17 L278.40 161.18 L278.60 161.19 L278.80 161.20 L279.00 161.21 L279.20 161.22 L279.40 161.22 L279.60 161.21 L279.80 161.20 L280.00 161.19 L280.20 161.07 L280.40 160.84 L280.60 160.59 L280.80 160.38 L281.00 160.30 L281.20 160.38 L281.40 160.59 L281.60 160.84 L281.80 161.07 L282.00 161.16 L282.20 161.18 L282.40 161.19 L282.60 161.21 L282.80 161.23 L283.00 161.24 L283.20 161.26 L283.40 161.27 L283.60 161.29 L283.80 161.31 L284.00 161.32 L284.20 161.34 L284.40 161.33 L284.60 161.32 L284.80 161.32 L285.00 161.25 L285.20 161.07 L285.40 160.84 L285.60 160.59 L285.80 160.38 L286.00 160.30 L286.20 160.38 L286.40 160.59 L286.60 160.84 L286.80 161.07 L287.00 161.25 L287.20 161.25 L287.40 161.26 L287.60 161.26 L287.80 161.27 L288.00 161.27 L288.20 161.28 L288.40 161.28 L288.60 161.28 L288.80 161.29 L289.00 161.29 L289.20 161.30 L289.40 161.29 L289.60 161.27 L289.80 161.26 L290.00 161.21 L290.20 161.03 L290.40 160.78 L290.60 160.50 L290.80 160.28 L291.00 160.20 L291.20 160.28 L291.40 160.50 L291.60 160.78 L291.80 161.03 L292.00 161.17 L292.20 161.18 L292.40 161.20 L292.60 161.21 L292.80 161.23 L293.00 161.24 L293.20 161.25 L293.40 161.27 L293.60 161.25 L293.80 161.12 L294.00 160.94 L294.20 160.66 L294.40 160.19 L294.60 159.55 L294.80 158.95 L295.00 158.70 L295.20 158.95 L295.40 159.55 L295.60 160.19 L295.80 160.66 L296.00 160.94 L296.20 161.12 L296.40 161.10 L296.60 161.07 L296.80 161.07 L297.00 161.10 L297.20 161.12 L297.40 161.14 L297.60 161.16 L297.80 161.19 L298.00 161.21 L298.20 161.23 L298.40 161.25 L298.60 161.28 L298.80 161.30 L299.00 161.32 L299.20 161.34 L299.40 161.33 L299.60 161.31 L299.80 161.29 L300.00 161.27 L300.20 161.26 L300.40 161.24 L300.60 161.22 L300.80 161.21 L301.00 161.19 L301.20 161.17 L301.40 161.16 L301.60 161.14 L301.80 161.14 L302.00 161.16 L302.20 161.17 L302.40 161.19 L302.60 161.21 L302.80 161.22 L303.00 161.24 L303.20 161.26 L303.40 161.28 L303.60 161.29 L303.80 161.31 L304.00 161.33 L304.20 161.34 L304.40 161.34 L304.60 161.33 L304.80 161.33 L305.00 161.32 L305.20 161.32 L305.40 161.31 L305.60 161.30 L305.80 161.30 L306.00 161.29 L306.20 161.29 L306.40 161.28 L306.60 161.28 L306.80 161.27 L307.00 161.25 L307.20 161.24 L307.40 161.23 L307.60 161.21 L307.80 161.20 L308.00 161.19 L308.20 161.17 L308.40 161.16 L308.60 161.15 L308.80 161.13 L309.00 161.12 L309.20 161.11 L309.40 161.12 L309.60 161.11 L309.80 160.95 L310.00 160.74 L310.20 160.46 L310.40 160.13 L310.60 159.82 L310.80 159.59 L311.00 159.50 L311.20 159.59 L311.40 159.82 L311.60 160.13 L311.80 160.46 L312.00 160.74 L312.20 160.95 L312.40 161.11 L312.60 161.22 L312.80 161.30 L313.00 161.30 L313.20 161.30 L313.40 161.30 L313.60 161.30 L313.80 161.30 L314.00 161.28 L314.20 161.12 L314.40 160.90 L314.60 160.67 L314.80 160.47 L315.00 160.40 L315.20 160.47 L315.40 160.67 L315.60 160.90 L315.80 161.12 L316.00 161.19 L316.20 161.17 L316.40 161.16 L316.60 161.15 L316.80 161.15 L317.00 161.15 L317.20 161.16 L317.40 161.17 L317.60 161.18 L317.80 161.18 L318.00 161.19 L318.20 161.20 L318.40 161.20 L318.60 161.21 L318.80 161.22 L319.00 161.23 L319.20 161.17 L319.40 160.97 L319.60 160.75 L319.80 160.57 L320.00 160.50 L320.20 160.57 L320.40 160.75 L320.60 160.97 L320.80 161.17 L321.00 161.31 L321.20 161.32 L321.40 161.32 L321.60 161.33 L321.80 161.33 L322.00 161.30 L322.20 161.28 L322.40 161.26 L322.60 161.23 L322.80 161.21 L323.00 161.19 L323.20 161.17 L323.40 161.14 L323.60 161.12 L323.80 161.10 L324.00 161.08 L324.20 161.05 L324.40 161.07 L324.60 161.09 L324.80 161.11 L325.00 161.13 L325.20 161.15 L325.40 161.03 L325.60 160.83 L325.80 160.66 L326.00 160.60 L326.20 160.66 L326.40 160.83 L326.60 161.03 L326.80 161.22 L327.00 161.31 L327.20 161.31 L327.40 161.31 L327.60 161.32 L327.80 161.32 L328.00 161.32 L328.20 161.33 L328.40 161.33 L328.60 161.33 L328.80 161.33 L329.00 161.34 L329.20 161.34 L329.40 161.33 L329.60 161.32 L329.80 161.32 L330.00 161.31 L330.20 161.30 L330.40 161.29 L330.60 161.29 L330.80 161.28 L331.00 161.27 L331.20 161.27 L331.40 161.26 L331.60 161.25 L331.80 161.24 L332.00 161.24 L332.20 161.23 L332.40 161.10 L332.60 160.91 L332.80 160.76 L333.00 160.70 L333.20 160.76 L333.40 160.91 L333.60 161.10 L333.80 161.18 L334.00 161.17 L334.20 161.17 L334.40 161.16 L334.60 161.16 L334.80 161.16 L335.00 161.15 L335.20 161.15 L335.40 161.15 L335.60 161.14 L335.80 161.14 L336.00 161.14 L336.20 161.13 L336.40 161.13 L336.60 161.13 L336.80 161.13 L337.00 161.15 L337.20 161.17 L337.40 161.18 L337.60 161.20 L337.80 161.21 L338.00 161.23 L338.20 161.24 L338.40 161.26 L338.60 161.27 L338.80 161.29 L339.00 161.30 L339.20 161.32 L339.40 161.16 L339.60 160.99 L339.80 160.85 L340.00 160.80 L340.20 160.85 L340.40 160.99 L340.60 161.16 L340.80 161.27 L341.00 161.27 L341.20 161.26 L341.40 161.26 L341.60 161.25 L341.80 161.25 L342.00 161.26 L342.20 161.27 L342.40 161.27 L342.60 161.28 L342.80 161.29 L343.00 161.30 L343.20 161.30 L343.40 161.31 L343.60 161.32 L343.80 161.33 L344.00 161.33 L344.20 161.34 L344.40 161.33 L344.60 161.32 L344.80 161.31 L345.00 161.30 L345.20 161.29 L345.40 161.28 L345.60 161.27 L345.80 161.26 L346.00 161.25 L346.20 161.24 L346.40 161.23 L346.60 161.22 L346.80 161.21 L347.00 161.20 L347.00 161.80 Z" fill="#a50f15"/>
<path d="M296.30 161.80 L296.50 159.37 L296.80 154.82 L297.10 147.84 L297.20 138.13 L298.10 116.28 L298.50 101.10 L298.90 101.10 L299.60 116.28 L300.20 138.13 L301.70 147.84 L303.70 154.82 L308.50 159.37 L312.00 161.80 Z" fill="#a50f15"/>
<line x1="34.20" y1="161.80" x2="347.00" y2="161.80" stroke="#d03030" stroke-width="0.70"/>
<line x1="34.30" y1="101.00" x2="34.30" y2="161.80" stroke="#555" stroke-width="0.50"/>
<line x1="33.00" y1="161.80" x2="34.20" y2="161.80" stroke="#444" stroke-width="0.35"/>
<line x1="33.50" y1="158.76" x2="34.20" y2="158.76" stroke="#444" stroke-width="0.35"/>
<line x1="33.50" y1="155.72" x2="34.20" y2="155.72" stroke="#444" stroke-width="0.35"/>
<line x1="33.50" y1="152.68" x2="34.20" y2="152.68" stroke="#444" stroke-width="0.35"/>
<line x1="33.00" y1="149.64" x2="34.20" y2="149.64" stroke="#444" stroke-width="0.35"/>
<line x1="33.50" y1="146.60" x2="34.20" y2="146.60" stroke="#444" stroke-width="0.35"/>
<line x1="33.50" y1="143.56" x2="34.20" y2="143.56" stroke="#444" stroke-width="0.35"/>
<line x1="33.50" y1="140.52" x2="34.20" y2="140.52" stroke="#444" stroke-width="0.35"/>
<line x1="33.00" y1="137.48" x2="34.20" y2="137.48" stroke="#444" stroke-width="0.35"/>
<line x1="33.50" y1="134.44" x2="34.20" y2="134.44" stroke="#444" stroke-width="0.35"/>
<line x1="33.50" y1="131.40" x2="34.20" y2="131.40" stroke="#444" stroke-width="0.35"/>
<line x1="33.50" y1="128.36" x2="34.20" y2="128.36" stroke="#444" stroke-width="0.35"/>
<line x1="33.00" y1="125.32" x2="34.20" y2="125.32" stroke="#444" stroke-width="0.35"/>
<line x1="33.50" y1="122.28" x2="34.20" y2="122.28" stroke="#444" stroke-width="0.35"/>
<line x1="33.50" y1="119.24" x2="34.20" y2="119.24" stroke="#444" stroke-width="0.35"/>
<line x1="33.50" y1="116.20" x2="34.20" y2="116.20" stroke="#444" stroke-width="0.35"/>
<line x1="33.00" y1="113.16" x2="34.20" y2="113.16" stroke="#444" stroke-width="0.35"/>
<line x1="33.50" y1="110.12" x2="34.20" y2="110.12" stroke="#444" stroke-width="0.35"/>
<line x1="33.50" y1="107.08" x2="34.20" y2="107.08" stroke="#444" stroke-width="0.35"/>
<line x1="33.50" y1="104.04" x2="34.20" y2="104.04" stroke="#444" stroke-width="0.35"/>
<line x1="33.00" y1="101.00" x2="34.20" y2="101.00" stroke="#444" stroke-width="0.35"/>
<text x="32.70" y="163.50" font-size="3.60" font-weight="bold" fill="#111" text-anchor="end">0</text>
<text x="32.70" y="151.34" font-size="3.60" font-weight="bold" fill="#111" text-anchor="end">20</text>
<text x="32.70" y="139.18" font-size="3.60" font-weight="bold" fill="#111" text-anchor="end">40</text>
<text x="32.70" y="127.02" font-size="3.60" font-weight="bold" fill="#111" text-anchor="end">60</text>
<text x="32.70" y="114.86" font-size="3.60" font-weight="bold" fill="#111" text-anchor="end">80</text>
<text x="32.70" y="102.70" font-size="3.60" font-weight="bold" fill="#111" text-anchor="end">100</text>
<path d="M34.60 227.50 L34.60 226.96 L34.80 226.96 L35.00 226.95 L35.20 226.94 L35.40 226.93 L35.60 226.93 L35.80 226.92 L36.00 226.91 L36.20 226.91 L36.40 226.90 L36.60 226.89 L36.80 226.89 L37.00 226.89 L37.20 226.90 L37.40 226.90 L37.60 226.91 L37.80 226.91 L38.00 226.91 L38.20 226.92 L38.40 226.92 L38.60 226.93 L38.80 226.93 L39.00 226.93 L39.20 226.94 L39.40 226.93 L39.60 226.93 L39.80 226.92 L40.00 226.92 L40.20 226.91 L40.40 226.91 L40.60 226.90 L40.80 226.89 L41.00 226.89 L41.20 226.88 L41.40 226.88 L41.60 226.87 L41.80 226.87 L42.00 226.87 L42.20 226.87 L42.40 226.87 L42.60 226.87 L42.80 226.87 L43.00 226.87 L43.20 226.86 L43.40 226.86 L43.60 226.86 L43.80 226.86 L44.00 226.86 L44.20 226.86 L44.40 226.88 L44.60 226.89 L44.80 226.90 L45.00 226.92 L45.20 226.93 L45.40 226.86 L45.60 226.69 L45.80 226.55 L46.00 226.50 L46.20 226.55 L46.40 226.69 L46.60 226.86 L46.80 227.02 L47.00 227.03 L47.20 227.03 L47.40 227.03 L47.60 227.04 L47.80 227.04 L48.00 227.04 L48.20 227.04 L48.40 227.04 L48.60 227.04 L48.80 227.04 L49.00 227.04 L49.20 227.05 L49.40 227.03 L49.60 227.01 L49.80 226.99 L50.00 226.97 L50.20 226.95 L50.40 226.93 L50.60 226.91 L50.80 226.89 L51.00 226.87 L51.20 226.85 L51.40 226.83 L51.60 226.81 L51.80 226.81 L52.00 226.82 L52.20 226.83 L52.40 226.85 L52.60 226.86 L52.80 226.85 L53.00 226.61 L53.20 226.33 L53.40 226.01 L53.60 225.61 L53.80 224.99 L54.00 223.88 L54.20 222.12 L54.40 220.24 L54.60 219.40 L54.80 220.24 L55.00 222.12 L55.20 223.88 L55.40 224.99 L55.60 225.61 L55.80 226.01 L56.00 226.33 L56.20 226.61 L56.40 226.62 L56.60 226.28 L56.80 225.77 L57.00 225.18 L57.20 224.76 L57.40 224.76 L57.60 225.18 L57.80 225.77 L58.00 225.34 L58.20 224.60 L58.40 224.07 L58.60 224.07 L58.80 224.60 L59.00 225.34 L59.20 225.27 L59.40 224.62 L59.60 223.52 L59.80 221.59 L60.00 219.01 L60.20 217.00 L60.40 217.00 L60.60 219.01 L60.80 221.59 L61.00 223.52 L61.20 224.62 L61.40 225.27 L61.60 225.54 L61.80 224.72 L62.00 223.77 L62.20 223.10 L62.40 223.10 L62.60 223.77 L62.80 224.72 L63.00 225.35 L63.20 224.54 L63.40 223.29 L63.60 221.86 L63.80 220.84 L64.00 220.84 L64.20 221.86 L64.40 223.29 L64.60 224.54 L64.80 225.35 L65.00 225.84 L65.20 226.15 L65.40 225.73 L65.60 224.88 L65.80 223.73 L66.00 222.83 L66.20 222.83 L66.40 223.73 L66.60 224.88 L66.80 225.73 L67.00 226.04 L67.20 225.47 L67.40 224.49 L67.60 223.18 L67.80 222.15 L68.00 222.15 L68.20 223.18 L68.40 224.49 L68.60 225.47 L68.80 225.99 L69.00 225.37 L69.20 224.53 L69.40 223.73 L69.60 223.40 L69.80 223.73 L70.00 224.53 L70.20 225.37 L70.40 225.32 L70.60 224.74 L70.80 224.50 L71.00 224.74 L71.20 225.32 L71.40 225.23 L71.60 225.12 L71.80 225.01 L72.00 224.90 L72.20 224.80 L72.40 224.66 L72.60 224.33 L72.80 223.37 L73.00 221.20 L73.20 217.71 L73.40 213.58 L73.60 209.84 L73.80 207.18 L74.00 205.67 L74.20 205.02 L74.40 204.83 L74.60 204.80 L74.80 204.81 L75.00 204.89 L75.20 205.26 L75.40 206.29 L75.60 208.36 L75.80 211.61 L76.00 215.66 L76.20 219.60 L76.40 221.36 L76.60 218.60 L76.80 215.50 L77.00 212.98 L77.20 212.00 L77.40 212.98 L77.60 208.67 L77.80 203.16 L78.00 197.78 L78.20 193.78 L78.40 192.30 L78.60 193.78 L78.80 197.78 L79.00 203.16 L79.20 208.67 L79.40 212.98 L79.60 212.00 L79.80 212.98 L80.00 215.50 L80.20 218.60 L80.40 221.36 L80.60 223.30 L80.80 223.87 L81.00 224.40 L81.20 224.78 L81.40 224.61 L81.60 224.33 L81.80 223.18 L82.00 219.95 L82.20 215.36 L82.40 211.72 L82.60 209.99 L82.80 209.54 L83.00 209.50 L83.20 209.54 L83.40 209.99 L83.60 211.72 L83.80 215.36 L84.00 219.95 L84.20 222.25 L84.40 220.20 L84.60 218.17 L84.80 216.66 L85.00 216.10 L85.20 216.66 L85.40 218.17 L85.60 220.20 L85.80 222.25 L86.00 217.65 L86.20 212.49 L86.40 209.64 L86.60 208.87 L86.80 208.80 L87.00 208.87 L87.20 209.64 L87.40 212.49 L87.60 217.65 L87.80 222.30 L88.00 224.12 L88.20 224.50 L88.40 224.70 L88.60 224.55 L88.80 224.23 L89.00 223.20 L89.20 220.81 L89.40 217.27 L89.60 213.76 L89.80 211.32 L90.00 210.09 L90.20 209.68 L90.40 209.60 L90.60 209.60 L90.80 209.68 L91.00 210.09 L91.20 211.32 L91.40 213.76 L91.60 217.27 L91.80 220.81 L92.00 222.06 L92.20 220.86 L92.40 220.10 L92.60 220.10 L92.80 220.86 L93.00 222.06 L93.20 223.24 L93.40 223.86 L93.60 224.62 L93.80 225.32 L94.00 225.69 L94.20 225.80 L94.40 225.26 L94.60 224.67 L94.80 224.19 L95.00 224.00 L95.20 224.19 L95.40 224.67 L95.60 225.26 L95.80 225.80 L96.00 226.21 L96.20 226.36 L96.40 226.18 L96.60 225.94 L96.80 225.59 L97.00 225.09 L97.20 224.39 L97.40 223.52 L97.60 222.63 L97.80 221.96 L98.00 221.70 L98.20 221.96 L98.40 222.63 L98.60 223.52 L98.80 224.39 L99.00 225.09 L99.20 225.55 L99.40 225.00 L99.60 224.27 L99.80 223.45 L100.00 222.71 L100.20 222.26 L100.40 222.26 L100.60 222.71 L100.80 223.45 L101.00 224.27 L101.20 225.00 L101.40 225.55 L101.60 225.93 L101.80 225.83 L102.00 225.32 L102.20 224.84 L102.40 224.54 L102.60 224.54 L102.80 224.84 L103.00 225.32 L103.20 225.83 L103.40 226.24 L103.60 226.52 L103.80 226.63 L104.00 226.40 L104.20 226.05 L104.40 225.58 L104.60 225.07 L104.80 224.66 L105.00 224.50 L105.20 224.66 L105.40 225.07 L105.60 225.58 L105.80 225.98 L106.00 225.68 L106.20 225.36 L106.40 225.01 L106.60 224.60 L106.80 224.11 L107.00 223.44 L107.20 222.46 L107.40 221.03 L107.60 219.16 L107.80 217.03 L108.00 215.11 L108.20 213.95 L108.40 213.95 L108.60 215.11 L108.80 217.03 L109.00 219.16 L109.20 221.03 L109.40 222.46 L109.60 223.44 L109.80 223.15 L110.00 222.18 L110.20 221.58 L110.40 221.58 L110.60 222.18 L110.80 223.15 L111.00 224.15 L111.20 224.97 L111.40 225.55 L111.60 225.92 L111.80 225.99 L112.00 225.70 L112.20 225.38 L112.40 224.99 L112.60 224.45 L112.80 223.63 L113.00 222.41 L113.20 220.79 L113.40 219.00 L113.60 217.56 L113.80 217.00 L114.00 217.56 L114.20 219.00 L114.40 220.79 L114.60 222.41 L114.80 223.29 L115.00 221.92 L115.20 220.25 L115.40 218.64 L115.60 217.64 L115.80 217.64 L116.00 218.64 L116.20 220.25 L116.40 221.92 L116.60 222.48 L116.80 221.42 L117.00 221.00 L117.20 221.42 L117.40 222.48 L117.60 223.70 L117.80 224.72 L118.00 223.93 L118.20 222.65 L118.40 220.93 L118.60 219.14 L118.80 217.96 L119.00 217.96 L119.20 219.14 L119.40 220.93 L119.60 222.65 L119.80 223.93 L120.00 224.75 L120.20 225.27 L120.40 225.26 L120.60 224.67 L120.80 224.19 L121.00 224.00 L121.20 224.19 L121.40 224.67 L121.60 225.26 L121.80 225.80 L122.00 226.21 L122.20 226.48 L122.40 226.66 L122.60 226.78 L122.80 226.78 L123.00 226.65 L123.20 226.41 L123.40 226.05 L123.60 225.61 L123.80 225.20 L124.00 224.94 L124.20 224.94 L124.40 225.20 L124.60 225.61 L124.80 226.05 L125.00 226.41 L125.20 226.65 L125.40 226.82 L125.60 226.92 L125.80 226.86 L126.00 226.69 L126.20 226.43 L126.40 226.09 L126.60 225.72 L126.80 225.42 L127.00 225.30 L127.20 225.42 L127.40 225.72 L127.60 226.09 L127.80 226.43 L128.00 226.69 L128.20 226.86 L128.40 226.97 L128.60 227.01 L128.80 227.01 L129.00 227.01 L129.20 227.01 L129.40 227.01 L129.60 227.01 L129.80 227.00 L130.00 226.87 L130.20 226.68 L130.40 226.41 L130.60 226.12 L130.80 225.89 L131.00 225.80 L131.20 225.89 L131.40 226.12 L131.60 226.41 L131.80 226.68 L132.00 226.87 L132.20 226.94 L132.40 226.92 L132.60 226.90 L132.80 226.89 L133.00 226.87 L133.20 226.85 L133.40 226.83 L133.60 226.81 L133.80 226.80 L134.00 226.78 L134.20 226.68 L134.40 226.41 L134.60 226.12 L134.80 225.89 L135.00 225.80 L135.20 225.89 L135.40 226.12 L135.60 226.41 L135.80 226.68 L136.00 226.87 L136.20 226.89 L136.40 226.90 L136.60 226.91 L136.80 226.92 L137.00 226.91 L137.20 226.91 L137.40 226.90 L137.60 226.90 L137.80 226.89 L138.00 226.84 L138.20 226.63 L138.40 226.35 L138.60 226.04 L138.80 225.80 L139.00 225.70 L139.20 225.80 L139.40 226.04 L139.60 226.35 L139.80 226.63 L140.00 226.84 L140.20 226.90 L140.40 226.91 L140.60 226.92 L140.80 226.92 L141.00 226.93 L141.20 226.94 L141.40 226.95 L141.60 226.96 L141.80 226.89 L142.00 226.73 L142.20 226.48 L142.40 226.16 L142.60 225.80 L142.80 225.51 L143.00 225.40 L143.20 225.51 L143.40 225.80 L143.60 226.16 L143.80 226.48 L144.00 226.68 L144.20 226.58 L144.40 226.46 L144.60 226.30 L144.80 226.09 L145.00 225.80 L145.20 225.42 L145.40 224.96 L145.60 224.45 L145.80 223.96 L146.00 223.55 L146.20 223.33 L146.40 223.33 L146.60 223.55 L146.80 223.96 L147.00 224.45 L147.20 224.96 L147.40 225.42 L147.60 225.80 L147.80 226.09 L148.00 226.30 L148.20 226.46 L148.40 226.58 L148.60 226.68 L148.80 226.77 L149.00 226.80 L149.20 226.58 L149.40 226.28 L149.60 225.96 L149.80 225.70 L150.00 225.60 L150.20 225.70 L150.40 225.96 L150.60 226.01 L150.80 225.78 L151.00 225.48 L151.20 225.07 L151.40 224.53 L151.60 223.88 L151.80 223.15 L152.00 222.44 L152.20 221.86 L152.40 221.54 L152.60 221.54 L152.80 221.86 L153.00 222.44 L153.20 222.65 L153.40 221.76 L153.60 220.96 L153.80 220.40 L154.00 220.20 L154.20 220.40 L154.40 220.96 L154.60 221.76 L154.80 222.65 L155.00 223.51 L155.20 224.24 L155.40 224.81 L155.60 225.24 L155.80 225.56 L156.00 225.80 L156.20 225.99 L156.40 226.16 L156.60 225.96 L156.80 225.70 L157.00 225.60 L157.20 225.70 L157.40 225.96 L157.60 226.28 L157.80 226.58 L158.00 226.80 L158.20 226.82 L158.40 226.82 L158.60 226.83 L158.80 226.83 L159.00 226.84 L159.20 226.85 L159.40 226.84 L159.60 226.83 L159.80 226.80 L160.00 226.70 L160.20 226.56 L160.40 226.37 L160.60 226.10 L160.80 225.73 L161.00 225.28 L161.20 224.79 L161.40 224.38 L161.60 224.13 L161.80 224.13 L162.00 224.38 L162.20 224.79 L162.40 225.28 L162.60 225.73 L162.80 226.10 L163.00 226.37 L163.20 226.56 L163.40 226.70 L163.60 226.79 L163.80 226.79 L164.00 226.79 L164.20 226.79 L164.40 226.79 L164.60 226.79 L164.80 226.78 L165.00 226.78 L165.20 226.77 L165.40 226.54 L165.60 226.29 L165.80 226.08 L166.00 226.00 L166.20 226.08 L166.40 226.29 L166.60 226.54 L166.80 226.76 L167.00 226.76 L167.20 226.77 L167.40 226.78 L167.60 226.79 L167.80 226.79 L168.00 226.80 L168.20 226.81 L168.40 226.82 L168.60 226.83 L168.80 226.83 L169.00 226.84 L169.20 226.68 L169.40 226.41 L169.60 226.12 L169.80 225.89 L170.00 225.80 L170.20 225.89 L170.40 226.12 L170.60 226.41 L170.80 226.68 L171.00 226.87 L171.20 226.97 L171.40 226.98 L171.60 226.92 L171.80 226.78 L172.00 226.63 L172.20 226.45 L172.40 226.23 L172.60 225.89 L172.80 225.36 L173.00 224.58 L173.20 223.64 L173.40 222.82 L173.60 222.50 L173.80 222.82 L174.00 223.64 L174.20 224.58 L174.40 225.36 L174.60 225.89 L174.80 226.23 L175.00 225.89 L175.20 225.36 L175.40 224.58 L175.60 223.64 L175.80 222.82 L176.00 222.50 L176.20 222.82 L176.40 223.64 L176.60 224.58 L176.80 225.36 L177.00 225.89 L177.20 226.23 L177.40 226.45 L177.60 226.63 L177.80 226.77 L178.00 226.77 L178.20 226.77 L178.40 226.63 L178.60 226.40 L178.80 226.05 L179.00 225.58 L179.20 225.07 L179.40 224.66 L179.60 224.50 L179.80 224.66 L180.00 225.07 L180.20 225.58 L180.40 226.05 L180.60 226.40 L180.80 226.63 L181.00 226.78 L181.20 226.86 L181.40 226.87 L181.60 226.88 L181.80 226.88 L182.00 226.87 L182.20 226.77 L182.40 226.54 L182.60 226.29 L182.80 226.08 L183.00 226.00 L183.20 226.08 L183.40 226.29 L183.60 226.54 L183.80 226.77 L184.00 226.84 L184.20 226.84 L184.40 226.85 L184.60 226.86 L184.80 226.87 L185.00 226.88 L185.20 226.90 L185.40 226.91 L185.60 226.92 L185.80 226.93 L186.00 226.94 L186.20 226.96 L186.40 226.97 L186.60 226.98 L186.80 226.98 L187.00 226.95 L187.20 226.77 L187.40 226.54 L187.60 226.29 L187.80 226.08 L188.00 226.00 L188.20 226.08 L188.40 226.29 L188.60 226.54 L188.80 226.77 L189.00 226.82 L189.20 226.80 L189.40 226.81 L189.60 226.81 L189.80 226.82 L190.00 226.83 L190.20 226.83 L190.40 226.84 L190.60 226.84 L190.80 226.85 L191.00 226.86 L191.20 226.86 L191.40 226.87 L191.60 226.87 L191.80 226.88 L192.00 226.89 L192.20 226.90 L192.40 226.90 L192.60 226.91 L192.80 226.92 L193.00 226.92 L193.20 226.77 L193.40 226.54 L193.60 226.29 L193.80 226.08 L194.00 226.00 L194.20 226.08 L194.40 226.29 L194.60 226.54 L194.80 226.77 L195.00 226.95 L195.20 226.99 L195.40 227.00 L195.60 227.00 L195.80 227.01 L196.00 227.01 L196.20 227.02 L196.40 227.02 L196.60 227.03 L196.80 227.02 L197.00 227.00 L197.20 226.98 L197.40 226.96 L197.60 226.95 L197.80 226.93 L198.00 226.87 L198.20 226.68 L198.40 226.41 L198.60 226.12 L198.80 225.89 L199.00 225.80 L199.20 225.89 L199.40 226.12 L199.60 226.41 L199.80 226.68 L200.00 226.78 L200.20 226.78 L200.40 226.77 L200.60 226.77 L200.80 226.77 L201.00 226.76 L201.20 226.76 L201.40 226.76 L201.60 226.75 L201.80 226.76 L202.00 226.79 L202.20 226.81 L202.40 226.83 L202.60 226.85 L202.80 226.87 L203.00 226.89 L203.20 226.77 L203.40 226.54 L203.60 226.29 L203.80 226.08 L204.00 226.00 L204.20 226.08 L204.40 226.29 L204.60 226.54 L204.80 226.77 L205.00 226.95 L205.20 226.94 L205.40 226.92 L205.60 226.90 L205.80 226.89 L206.00 226.87 L206.20 226.85 L206.40 226.84 L206.60 226.82 L206.80 226.81 L207.00 226.82 L207.20 226.83 L207.40 226.84 L207.60 226.85 L207.80 226.86 L208.00 226.87 L208.20 226.88 L208.40 226.75 L208.60 226.53 L208.80 226.22 L209.00 225.83 L209.20 225.46 L209.40 225.23 L209.60 225.23 L209.80 225.46 L210.00 225.83 L210.20 226.22 L210.40 226.53 L210.60 226.75 L210.80 226.90 L211.00 226.98 L211.20 226.99 L211.40 227.00 L211.60 227.00 L211.80 227.00 L212.00 227.00 L212.20 227.00 L212.40 226.99 L212.60 226.99 L212.80 226.99 L213.00 226.95 L213.20 226.77 L213.40 226.54 L213.60 226.29 L213.80 226.08 L214.00 226.00 L214.20 226.08 L214.40 226.29 L214.60 226.54 L214.80 226.77 L215.00 226.92 L215.20 226.90 L215.40 226.89 L215.60 226.88 L215.80 226.87 L216.00 226.86 L216.20 226.85 L216.40 226.84 L216.60 226.83 L216.80 226.82 L217.00 226.82 L217.20 226.81 L217.40 226.81 L217.60 226.81 L217.80 226.81 L218.00 226.80 L218.20 226.77 L218.40 226.54 L218.60 226.29 L218.80 226.08 L219.00 226.00 L219.20 226.08 L219.40 226.29 L219.60 226.54 L219.80 226.77 L220.00 226.87 L220.20 226.89 L220.40 226.91 L220.60 226.93 L220.80 226.95 L221.00 226.97 L221.20 226.99 L221.40 227.01 L221.60 227.03 L221.80 227.03 L222.00 227.02 L222.20 227.00 L222.40 226.99 L222.60 226.98 L222.80 226.96 L223.00 226.95 L223.20 226.93 L223.40 226.92 L223.60 226.76 L223.80 226.53 L224.00 226.22 L224.20 225.88 L224.40 225.61 L224.60 225.50 L224.80 225.61 L225.00 225.88 L225.20 226.22 L225.40 226.53 L225.60 226.76 L225.80 226.92 L226.00 226.99 L226.20 227.00 L226.40 227.02 L226.60 227.03 L226.80 227.03 L227.00 227.01 L227.20 227.00 L227.40 226.98 L227.60 226.96 L227.80 226.95 L228.00 226.93 L228.20 226.92 L228.40 226.90 L228.60 226.88 L228.80 226.87 L229.00 226.85 L229.20 226.77 L229.40 226.54 L229.60 226.29 L229.80 226.08 L230.00 226.00 L230.20 226.08 L230.40 226.29 L230.60 226.54 L230.80 226.77 L231.00 226.92 L231.20 226.93 L231.40 226.94 L231.60 226.95 L231.80 226.94 L232.00 226.93 L232.20 226.92 L232.40 226.90 L232.60 226.89 L232.80 226.88 L233.00 226.86 L233.20 226.85 L233.40 226.84 L233.60 226.83 L233.80 226.81 L234.00 226.80 L234.20 226.79 L234.40 226.78 L234.60 226.78 L234.80 226.78 L235.00 226.78 L235.20 226.77 L235.40 226.54 L235.60 226.29 L235.80 226.08 L236.00 226.00 L236.20 226.08 L236.40 226.29 L236.60 226.54 L236.80 226.76 L237.00 226.77 L237.20 226.78 L237.40 226.80 L237.60 226.81 L237.80 226.82 L238.00 226.83 L238.20 226.84 L238.40 226.85 L238.60 226.86 L238.80 226.88 L239.00 226.89 L239.20 226.90 L239.40 226.89 L239.60 226.87 L239.80 226.86 L240.00 226.85 L240.20 226.84 L240.40 226.83 L240.60 226.82 L240.80 226.80 L241.00 226.79 L241.20 226.78 L241.40 226.77 L241.60 226.76 L241.80 226.76 L242.00 226.78 L242.20 226.79 L242.40 226.81 L242.60 226.69 L242.80 226.45 L243.00 226.11 L243.20 225.69 L243.40 225.29 L243.60 225.03 L243.80 225.03 L244.00 225.29 L244.20 225.69 L244.40 226.11 L244.60 226.45 L244.80 226.69 L245.00 226.84 L245.20 226.95 L245.40 226.99 L245.60 227.00 L245.80 227.00 L246.00 227.01 L246.20 226.95 L246.40 226.83 L246.60 226.65 L246.80 226.39 L247.00 226.03 L247.20 225.64 L247.40 225.32 L247.60 225.20 L247.80 225.32 L248.00 225.64 L248.20 226.03 L248.40 226.39 L248.60 226.65 L248.80 226.83 L249.00 226.88 L249.20 226.87 L249.40 226.88 L249.60 226.90 L249.80 226.91 L250.00 226.92 L250.20 226.94 L250.40 226.95 L250.60 226.80 L250.80 226.58 L251.00 226.28 L251.20 225.96 L251.40 225.70 L251.60 225.60 L251.80 225.70 L252.00 225.96 L252.20 226.28 L252.40 226.58 L252.60 226.80 L252.80 226.95 L253.00 227.01 L253.20 227.01 L253.40 227.01 L253.60 227.00 L253.80 227.00 L254.00 226.99 L254.20 226.99 L254.40 226.99 L254.60 226.98 L254.80 226.98 L255.00 226.87 L255.20 226.68 L255.40 226.41 L255.60 226.12 L255.80 225.89 L256.00 225.80 L256.20 225.89 L256.40 226.12 L256.60 226.41 L256.80 226.68 L257.00 226.87 L257.20 226.92 L257.40 226.91 L257.60 226.91 L257.80 226.90 L258.00 226.90 L258.20 226.89 L258.40 226.89 L258.60 226.82 L258.80 226.64 L259.00 226.36 L259.20 225.89 L259.40 225.25 L259.60 224.65 L259.80 224.40 L260.00 224.65 L260.20 225.13 L260.40 225.48 L260.60 225.90 L260.80 226.29 L261.00 226.58 L261.20 226.77 L261.40 226.89 L261.60 226.78 L261.80 226.63 L262.00 226.40 L262.20 226.05 L262.40 225.58 L262.60 225.07 L262.80 224.66 L263.00 224.50 L263.20 224.66 L263.40 225.07 L263.60 225.58 L263.80 226.05 L264.00 226.40 L264.20 226.59 L264.40 226.29 L264.60 225.63 L264.80 224.07 L265.00 220.89 L265.20 215.80 L265.40 209.95 L265.60 205.88 L265.80 205.88 L266.00 209.95 L266.20 215.80 L266.40 220.89 L266.60 220.13 L266.80 218.09 L267.00 216.57 L267.20 216.00 L267.40 216.57 L267.60 218.09 L267.80 220.13 L268.00 218.38 L268.20 212.37 L268.40 205.91 L268.60 201.60 L268.80 201.60 L269.00 205.91 L269.20 212.37 L269.40 218.38 L269.60 222.50 L269.80 223.45 L270.00 222.77 L270.20 222.50 L270.40 222.77 L270.60 223.45 L270.80 224.30 L271.00 225.08 L271.20 224.86 L271.40 223.29 L271.60 222.16 L271.80 222.16 L272.00 223.29 L272.20 224.86 L272.40 226.05 L272.60 225.58 L272.80 225.07 L273.00 224.66 L273.20 224.50 L273.40 224.66 L273.60 225.07 L273.80 225.58 L274.00 225.44 L274.20 223.51 L274.40 221.15 L274.60 219.44 L274.80 219.44 L275.00 221.15 L275.20 223.51 L275.40 225.44 L275.60 226.56 L275.80 226.88 L276.00 226.80 L276.20 226.58 L276.40 226.28 L276.60 225.96 L276.80 225.70 L277.00 225.60 L277.20 225.70 L277.40 225.96 L277.60 226.28 L277.80 226.58 L278.00 226.80 L278.20 226.92 L278.40 226.92 L278.60 226.92 L278.80 226.92 L279.00 226.91 L279.20 226.91 L279.40 226.91 L279.60 226.91 L279.80 226.91 L280.00 226.91 L280.20 226.77 L280.40 226.54 L280.60 226.29 L280.80 226.08 L281.00 226.00 L281.20 226.08 L281.40 226.29 L281.60 226.54 L281.80 226.77 L282.00 226.89 L282.20 226.89 L282.40 226.88 L282.60 226.88 L282.80 226.88 L283.00 226.87 L283.20 226.87 L283.40 226.87 L283.60 226.87 L283.80 226.86 L284.00 226.86 L284.20 226.86 L284.40 226.86 L284.60 226.86 L284.80 226.86 L285.00 226.86 L285.20 226.77 L285.40 226.54 L285.60 226.29 L285.80 226.08 L286.00 226.00 L286.20 226.08 L286.40 226.29 L286.60 226.54 L286.80 226.77 L287.00 226.87 L287.20 226.87 L287.40 226.87 L287.60 226.88 L287.80 226.88 L288.00 226.88 L288.20 226.88 L288.40 226.88 L288.60 226.88 L288.80 226.88 L289.00 226.88 L289.20 226.88 L289.40 226.88 L289.60 226.88 L289.80 226.88 L290.00 226.88 L290.20 226.77 L290.40 226.54 L290.60 226.29 L290.80 226.08 L291.00 226.00 L291.20 226.08 L291.40 226.29 L291.60 226.54 L291.80 226.77 L292.00 226.85 L292.20 226.84 L292.40 226.84 L292.60 226.83 L292.80 226.82 L293.00 226.81 L293.20 226.81 L293.40 226.80 L293.60 226.79 L293.80 226.78 L294.00 226.73 L294.20 226.53 L294.40 226.25 L294.60 225.77 L294.80 224.93 L295.00 223.80 L295.20 222.93 L295.40 222.93 L295.60 223.80 L295.80 224.93 L296.00 225.77 L296.20 226.25 L296.40 226.53 L296.60 226.73 L296.80 226.90 L297.00 226.90 L297.20 226.90 L297.40 226.90 L297.60 226.91 L297.80 226.91 L298.00 226.91 L298.20 226.91 L298.40 226.91 L298.60 226.92 L298.80 226.92 L299.00 226.92 L299.20 226.92 L299.40 226.91 L299.60 226.91 L299.80 226.90 L300.00 226.89 L300.20 226.89 L300.40 226.88 L300.60 226.87 L300.80 226.87 L301.00 226.86 L301.20 226.85 L301.40 226.84 L301.60 226.84 L301.80 226.84 L302.00 226.85 L302.20 226.86 L302.40 226.87 L302.60 226.89 L302.80 226.90 L303.00 226.91 L303.20 226.92 L303.40 226.93 L303.60 226.94 L303.80 226.96 L304.00 226.97 L304.20 226.98 L304.40 226.98 L304.60 226.98 L304.80 226.97 L305.00 226.97 L305.20 226.97 L305.40 226.97 L305.60 226.97 L305.80 226.97 L306.00 226.97 L306.20 226.96 L306.40 226.96 L306.60 226.96 L306.80 226.95 L307.00 226.94 L307.20 226.92 L307.40 226.90 L307.60 226.89 L307.80 226.87 L308.00 226.85 L308.20 226.79 L308.40 226.69 L308.60 226.56 L308.80 226.38 L309.00 226.14 L309.20 225.79 L309.40 225.34 L309.60 224.82 L309.80 224.31 L310.00 223.94 L310.20 223.80 L310.40 223.94 L310.60 224.31 L310.80 224.82 L311.00 225.34 L311.20 225.79 L311.40 226.14 L311.60 226.38 L311.80 226.56 L312.00 226.69 L312.20 226.79 L312.40 226.88 L312.60 226.89 L312.80 226.89 L313.00 226.87 L313.20 226.68 L313.40 226.41 L313.60 226.12 L313.80 225.89 L314.00 225.80 L314.20 225.89 L314.40 226.12 L314.60 226.41 L314.80 226.68 L315.00 226.87 L315.20 226.95 L315.40 226.96 L315.60 226.98 L315.80 226.99 L316.00 227.00 L316.20 227.01 L316.40 227.03 L316.60 227.04 L316.80 227.04 L317.00 227.03 L317.20 227.02 L317.40 227.01 L317.60 227.00 L317.80 226.99 L318.00 226.98 L318.20 226.97 L318.40 226.96 L318.60 226.95 L318.80 226.94 L319.00 226.94 L319.20 226.77 L319.40 226.54 L319.60 226.29 L319.80 226.08 L320.00 226.00 L320.20 226.08 L320.40 226.29 L320.60 226.54 L320.80 226.77 L321.00 226.89 L321.20 226.89 L321.40 226.88 L321.60 226.88 L321.80 226.88 L322.00 226.90 L322.20 226.91 L322.40 226.92 L322.60 226.94 L322.80 226.95 L323.00 226.96 L323.20 226.98 L323.40 226.99 L323.60 227.00 L323.80 227.02 L324.00 227.03 L324.20 227.04 L324.40 227.03 L324.60 227.02 L324.80 227.00 L325.00 226.99 L325.20 226.87 L325.40 226.67 L325.60 226.45 L325.80 226.27 L326.00 226.20 L326.20 226.27 L326.40 226.45 L326.60 226.67 L326.80 226.87 L327.00 226.86 L327.20 226.86 L327.40 226.86 L327.60 226.86 L327.80 226.86 L328.00 226.86 L328.20 226.86 L328.40 226.86 L328.60 226.86 L328.80 226.86 L329.00 226.86 L329.20 226.86 L329.40 226.87 L329.60 226.89 L329.80 226.90 L330.00 226.92 L330.20 226.93 L330.40 226.94 L330.60 226.96 L330.80 226.97 L331.00 226.98 L331.20 227.00 L331.40 227.01 L331.60 227.03 L331.80 227.03 L332.00 227.01 L332.20 226.92 L332.40 226.73 L332.60 226.53 L332.80 226.36 L333.00 226.30 L333.20 226.36 L333.40 226.53 L333.60 226.73 L333.80 226.89 L334.00 226.88 L334.20 226.86 L334.40 226.87 L334.60 226.87 L334.80 226.87 L335.00 226.88 L335.20 226.88 L335.40 226.88 L335.60 226.89 L335.80 226.89 L336.00 226.90 L336.20 226.90 L336.40 226.90 L336.60 226.91 L336.80 226.91 L337.00 226.90 L337.20 226.90 L337.40 226.89 L337.60 226.89 L337.80 226.88 L338.00 226.88 L338.20 226.87 L338.40 226.87 L338.60 226.86 L338.80 226.86 L339.00 226.85 L339.20 226.85 L339.40 226.80 L339.60 226.61 L339.80 226.46 L340.00 226.40 L340.20 226.46 L340.40 226.61 L340.60 226.80 L340.80 226.91 L341.00 226.92 L341.20 226.92 L341.40 226.93 L341.60 226.94 L341.80 226.94 L342.00 226.93 L342.20 226.92 L342.40 226.91 L342.60 226.91 L342.80 226.90 L343.00 226.89 L343.20 226.88 L343.40 226.87 L343.60 226.86 L343.80 226.85 L344.00 226.85 L344.20 226.84 L344.40 226.84 L344.60 226.84 L344.80 226.84 L345.00 226.83 L345.20 226.83 L345.40 226.83 L345.60 226.83 L345.80 226.83 L346.00 226.83 L346.20 226.83 L346.40 226.83 L346.60 226.83 L346.80 226.84 L347.00 226.85 L347.00 227.50 Z" fill="#13a02a"/>
<path d="M296.40 227.50 L296.60 225.07 L296.90 220.51 L297.20 213.52 L297.30 203.79 L298.20 181.90 L298.60 166.70 L299.00 166.70 L299.70 181.90 L300.30 203.79 L301.80 213.52 L303.80 220.51 L308.60 225.07 L312.10 227.50 Z" fill="#13a02a"/>
<line x1="34.20" y1="227.50" x2="347.00" y2="227.50" stroke="#13a02a" stroke-width="0.70"/>
<line x1="34.30" y1="166.30" x2="34.30" y2="227.50" stroke="#555" stroke-width="0.50"/>
<line x1="33.00" y1="227.50" x2="34.20" y2="227.50" stroke="#444" stroke-width="0.35"/>
<line x1="33.50" y1="224.44" x2="34.20" y2="224.44" stroke="#444" stroke-width="0.35"/>
<line x1="33.50" y1="221.38" x2="34.20" y2="221.38" stroke="#444" stroke-width="0.35"/>
<line x1="33.50" y1="218.32" x2="34.20" y2="218.32" stroke="#444" stroke-width="0.35"/>
<line x1="33.00" y1="215.26" x2="34.20" y2="215.26" stroke="#444" stroke-width="0.35"/>
<line x1="33.50" y1="212.20" x2="34.20" y2="212.20" stroke="#444" stroke-width="0.35"/>
<line x1="33.50" y1="209.14" x2="34.20" y2="209.14" stroke="#444" stroke-width="0.35"/>
<line x1="33.50" y1="206.08" x2="34.20" y2="206.08" stroke="#444" stroke-width="0.35"/>
<line x1="33.00" y1="203.02" x2="34.20" y2="203.02" stroke="#444" stroke-width="0.35"/>
<line x1="33.50" y1="199.96" x2="34.20" y2="199.96" stroke="#444" stroke-width="0.35"/>
<line x1="33.50" y1="196.90" x2="34.20" y2="196.90" stroke="#444" stroke-width="0.35"/>
<line x1="33.50" y1="193.84" x2="34.20" y2="193.84" stroke="#444" stroke-width="0.35"/>
<line x1="33.00" y1="190.78" x2="34.20" y2="190.78" stroke="#444" stroke-width="0.35"/>
<line x1="33.50" y1="187.72" x2="34.20" y2="187.72" stroke="#444" stroke-width="0.35"/>
<line x1="33.50" y1="184.66" x2="34.20" y2="184.66" stroke="#444" stroke-width="0.35"/>
<line x1="33.50" y1="181.60" x2="34.20" y2="181.60" stroke="#444" stroke-width="0.35"/>
<line x1="33.00" y1="178.54" x2="34.20" y2="178.54" stroke="#444" stroke-width="0.35"/>
<line x1="33.50" y1="175.48" x2="34.20" y2="175.48" stroke="#444" stroke-width="0.35"/>
<line x1="33.50" y1="172.42" x2="34.20" y2="172.42" stroke="#444" stroke-width="0.35"/>
<line x1="33.50" y1="169.36" x2="34.20" y2="169.36" stroke="#444" stroke-width="0.35"/>
<line x1="33.00" y1="166.30" x2="34.20" y2="166.30" stroke="#444" stroke-width="0.35"/>
<text x="32.70" y="229.20" font-size="3.60" font-weight="bold" fill="#111" text-anchor="end">0</text>
<text x="32.70" y="216.96" font-size="3.60" font-weight="bold" fill="#111" text-anchor="end">20</text>
<text x="32.70" y="204.72" font-size="3.60" font-weight="bold" fill="#111" text-anchor="end">40</text>
<text x="32.70" y="192.48" font-size="3.60" font-weight="bold" fill="#111" text-anchor="end">60</text>
<text x="32.70" y="180.24" font-size="3.60" font-weight="bold" fill="#111" text-anchor="end">80</text>
<text x="32.70" y="168.00" font-size="3.60" font-weight="bold" fill="#111" text-anchor="end">100</text>
<line x1="35.70" y1="227.50" x2="35.70" y2="228.70" stroke="#333" stroke-width="0.30"/>
<line x1="40.91" y1="227.50" x2="40.91" y2="228.20" stroke="#333" stroke-width="0.30"/>
<line x1="46.13" y1="227.50" x2="46.13" y2="228.20" stroke="#333" stroke-width="0.30"/>
<line x1="51.34" y1="227.50" x2="51.34" y2="228.20" stroke="#333" stroke-width="0.30"/>
<line x1="56.56" y1="227.50" x2="56.56" y2="228.20" stroke="#333" stroke-width="0.30"/>
<line x1="61.77" y1="227.50" x2="61.77" y2="228.70" stroke="#333" stroke-width="0.30"/>
<line x1="66.98" y1="227.50" x2="66.98" y2="228.20" stroke="#333" stroke-width="0.30"/>
<line x1="72.20" y1="227.50" x2="72.20" y2="228.20" stroke="#333" stroke-width="0.30"/>
<line x1="77.41" y1="227.50" x2="77.41" y2="228.20" stroke="#333" stroke-width="0.30"/>
<line x1="82.63" y1="227.50" x2="82.63" y2="228.20" stroke="#333" stroke-width="0.30"/>
<line x1="87.84" y1="227.50" x2="87.84" y2="228.70" stroke="#333" stroke-width="0.30"/>
<line x1="93.05" y1="227.50" x2="93.05" y2="228.20" stroke="#333" stroke-width="0.30"/>
<line x1="98.27" y1="227.50" x2="98.27" y2="228.20" stroke="#333" stroke-width="0.30"/>
<line x1="103.48" y1="227.50" x2="103.48" y2="228.20" stroke="#333" stroke-width="0.30"/>
<line x1="108.70" y1="227.50" x2="108.70" y2="228.20" stroke="#333" stroke-width="0.30"/>
<line x1="113.91" y1="227.50" x2="113.91" y2="228.70" stroke="#333" stroke-width="0.30"/>
<line x1="119.12" y1="227.50" x2="119.12" y2="228.20" stroke="#333" stroke-width="0.30"/>
<line x1="124.34" y1="227.50" x2="124.34" y2="228.20" stroke="#333" stroke-width="0.30"/>
<line x1="129.55" y1="227.50" x2="129.55" y2="228.20" stroke="#333" stroke-width="0.30"/>
<line x1="134.77" y1="227.50" x2="134.77" y2="228.20" stroke="#333" stroke-width="0.30"/>
<line x1="139.98" y1="227.50" x2="139.98" y2="228.70" stroke="#333" stroke-width="0.30"/>
<line x1="145.19" y1="227.50" x2="145.19" y2="228.20" stroke="#333" stroke-width="0.30"/>
<line x1="150.41" y1="227.50" x2="150.41" y2="228.20" stroke="#333" stroke-width="0.30"/>
<line x1="155.62" y1="227.50" x2="155.62" y2="228.20" stroke="#333" stroke-width="0.30"/>
<line x1="160.84" y1="227.50" x2="160.84" y2="228.20" stroke="#333" stroke-width="0.30"/>
<line x1="166.05" y1="227.50" x2="166.05" y2="228.70" stroke="#333" stroke-width="0.30"/>
<line x1="171.26" y1="227.50" x2="171.26" y2="228.20" stroke="#333" stroke-width="0.30"/>
<line x1="176.48" y1="227.50" x2="176.48" y2="228.20" stroke="#333" stroke-width="0.30"/>
<line x1="181.69" y1="227.50" x2="181.69" y2="228.20" stroke="#333" stroke-width="0.30"/>
<line x1="186.91" y1="227.50" x2="186.91" y2="228.20" stroke="#333" stroke-width="0.30"/>
<line x1="192.12" y1="227.50" x2="192.12" y2="228.70" stroke="#333" stroke-width="0.30"/>
<line x1="197.33" y1="227.50" x2="197.33" y2="228.20" stroke="#333" stroke-width="0.30"/>
<line x1="202.55" y1="227.50" x2="202.55" y2="228.20" stroke="#333" stroke-width="0.30"/>
<line x1="207.76" y1="227.50" x2="207.76" y2="228.20" stroke="#333" stroke-width="0.30"/>
<line x1="212.98" y1="227.50" x2="212.98" y2="228.20" stroke="#333" stroke-width="0.30"/>
<line x1="218.19" y1="227.50" x2="218.19" y2="228.70" stroke="#333" stroke-width="0.30"/>
<line x1="223.40" y1="227.50" x2="223.40" y2="228.20" stroke="#333" stroke-width="0.30"/>
<line x1="228.62" y1="227.50" x2="228.62" y2="228.20" stroke="#333" stroke-width="0.30"/>
<line x1="233.83" y1="227.50" x2="233.83" y2="228.20" stroke="#333" stroke-width="0.30"/>
<line x1="239.05" y1="227.50" x2="239.05" y2="228.20" stroke="#333" stroke-width="0.30"/>
<line x1="244.26" y1="227.50" x2="244.26" y2="228.70" stroke="#333" stroke-width="0.30"/>
<line x1="249.47" y1="227.50" x2="249.47" y2="228.20" stroke="#333" stroke-width="0.30"/>
<line x1="254.69" y1="227.50" x2="254.69" y2="228.20" stroke="#333" stroke-width="0.30"/>
<line x1="259.90" y1="227.50" x2="259.90" y2="228.20" stroke="#333" stroke-width="0.30"/>
<line x1="265.12" y1="227.50" x2="265.12" y2="228.20" stroke="#333" stroke-width="0.30"/>
<line x1="270.33" y1="227.50" x2="270.33" y2="228.70" stroke="#333" stroke-width="0.30"/>
<line x1="275.54" y1="227.50" x2="275.54" y2="228.20" stroke="#333" stroke-width="0.30"/>
<line x1="280.76" y1="227.50" x2="280.76" y2="228.20" stroke="#333" stroke-width="0.30"/>
<line x1="285.97" y1="227.50" x2="285.97" y2="228.20" stroke="#333" stroke-width="0.30"/>
<line x1="291.19" y1="227.50" x2="291.19" y2="228.20" stroke="#333" stroke-width="0.30"/>
<line x1="296.40" y1="227.50" x2="296.40" y2="228.70" stroke="#333" stroke-width="0.30"/>
<line x1="301.61" y1="227.50" x2="301.61" y2="228.20" stroke="#333" stroke-width="0.30"/>
<line x1="306.83" y1="227.50" x2="306.83" y2="228.20" stroke="#333" stroke-width="0.30"/>
<line x1="312.04" y1="227.50" x2="312.04" y2="228.20" stroke="#333" stroke-width="0.30"/>
<line x1="317.26" y1="227.50" x2="317.26" y2="228.20" stroke="#333" stroke-width="0.30"/>
<line x1="322.47" y1="227.50" x2="322.47" y2="228.70" stroke="#333" stroke-width="0.30"/>
<line x1="327.68" y1="227.50" x2="327.68" y2="228.20" stroke="#333" stroke-width="0.30"/>
<line x1="332.90" y1="227.50" x2="332.90" y2="228.20" stroke="#333" stroke-width="0.30"/>
<line x1="338.11" y1="227.50" x2="338.11" y2="228.20" stroke="#333" stroke-width="0.30"/>
<line x1="343.33" y1="227.50" x2="343.33" y2="228.20" stroke="#333" stroke-width="0.30"/>
<line x1="348.54" y1="227.50" x2="348.54" y2="228.70" stroke="#333" stroke-width="0.30"/>
<text x="35.70" y="233.80" font-size="3.60" font-weight="bold" fill="#111" text-anchor="middle">0</text>
<text x="61.77" y="233.80" font-size="3.60" font-weight="bold" fill="#111" text-anchor="middle">10</text>
<text x="87.84" y="233.80" font-size="3.60" font-weight="bold" fill="#111" text-anchor="middle">20</text>
<text x="113.91" y="233.80" font-size="3.60" font-weight="bold" fill="#111" text-anchor="middle">30</text>
<text x="139.98" y="233.80" font-size="3.60" font-weight="bold" fill="#111" text-anchor="middle">40</text>
<text x="166.05" y="233.80" font-size="3.60" font-weight="bold" fill="#111" text-anchor="middle">50</text>
<text x="192.12" y="233.80" font-size="3.60" font-weight="bold" fill="#111" text-anchor="middle">60</text>
<text x="218.19" y="233.80" font-size="3.60" font-weight="bold" fill="#111" text-anchor="middle">70</text>
<text x="244.26" y="233.80" font-size="3.60" font-weight="bold" fill="#111" text-anchor="middle">80</text>
<text x="270.33" y="233.80" font-size="3.60" font-weight="bold" fill="#111" text-anchor="middle">90</text>
<text x="296.40" y="233.80" font-size="3.60" font-weight="bold" fill="#111" text-anchor="middle">100</text>
<text x="322.47" y="233.80" font-size="3.60" font-weight="bold" fill="#111" text-anchor="middle">110</text>
<text x="192.00" y="238.60" font-size="3.30" font-weight="bold" fill="#111" text-anchor="middle">Time (min)</text>
<text x="24.90" y="131.00" font-size="3.80" font-weight="bold" fill="#111" text-anchor="middle" transform="rotate(-90 24.9 131)">Relative Abundance</text>
<text x="42.00" y="43.00" font-size="7.90" font-weight="bold" fill="#8a22b8" text-anchor="start">ASC-exosomes #1</text>
<text x="42.00" y="112.40" font-size="7.90" font-weight="bold" fill="#8a22b8" text-anchor="start">ASC-exosomes #2</text>
<text x="42.00" y="177.40" font-size="7.90" font-weight="bold" fill="#8a22b8" text-anchor="start">ASC-exosomes #3</text>
<text x="348.00" y="35.00" font-size="3.55" font-weight="bold" fill="#000000" text-anchor="start">NL:</text>
<text x="348.00" y="39.35" font-size="3.55" font-weight="bold" fill="#000000" text-anchor="start">2.35E9</text>
<text x="348.00" y="43.70" font-size="3.55" font-weight="bold" fill="#000000" text-anchor="start">Base Peak</text>
<text x="348.00" y="48.05" font-size="3.55" font-weight="bold" fill="#000000" text-anchor="start">MS</text>
<text x="348.00" y="52.40" font-size="3.55" font-weight="bold" fill="#000000" text-anchor="start">20160210_1</text>
<text x="348.00" y="56.75" font-size="3.55" font-weight="bold" fill="#000000" text-anchor="start" textLength="18.00" lengthAdjust="spacingAndGlyphs">SeraGlucose_</text>
<text x="348.00" y="61.10" font-size="3.55" font-weight="bold" fill="#000000" text-anchor="start">bonexo_A</text>
<text x="348.00" y="65.45" font-size="3.55" font-weight="bold" fill="#000000" text-anchor="start">F_0700</text>
<text x="348.00" y="100.00" font-size="3.55" font-weight="bold" fill="#c00000" text-anchor="start">NL:</text>
<text x="348.00" y="104.35" font-size="3.55" font-weight="bold" fill="#c00000" text-anchor="start">3.02E9</text>
<text x="348.00" y="108.70" font-size="3.55" font-weight="bold" fill="#c00000" text-anchor="start">Base Peak</text>
<text x="348.00" y="113.05" font-size="3.55" font-weight="bold" fill="#c00000" text-anchor="start">MS</text>
<text x="348.00" y="117.40" font-size="3.55" font-weight="bold" fill="#c00000" text-anchor="start">20160210_1</text>
<text x="348.00" y="121.75" font-size="3.55" font-weight="bold" fill="#c00000" text-anchor="start" textLength="18.00" lengthAdjust="spacingAndGlyphs">SeraGlucose_</text>
<text x="348.00" y="126.10" font-size="3.55" font-weight="bold" fill="#c00000" text-anchor="start">bonexo_pf</text>
<text x="348.00" y="130.45" font-size="3.55" font-weight="bold" fill="#c00000" text-anchor="start">_1_0910</text>
<text x="348.00" y="165.00" font-size="3.55" font-weight="bold" fill="#00a030" text-anchor="start">NL:</text>
<text x="348.00" y="169.35" font-size="3.55" font-weight="bold" fill="#00a030" text-anchor="start">2.58E9</text>
<text x="348.00" y="173.70" font-size="3.55" font-weight="bold" fill="#00a030" text-anchor="start">Base Peak</text>
<text x="348.00" y="178.05" font-size="3.55" font-weight="bold" fill="#00a030" text-anchor="start">MS</text>
<text x="348.00" y="182.40" font-size="3.55" font-weight="bold" fill="#00a030" text-anchor="start">20160210_1</text>
<text x="348.00" y="186.75" font-size="3.55" font-weight="bold" fill="#00a030" text-anchor="start" textLength="18.00" lengthAdjust="spacingAndGlyphs">SeraGlucose_</text>
<text x="348.00" y="191.10" font-size="3.55" font-weight="bold" fill="#00a030" text-anchor="start">bonexo_pf</text>
<text x="348.00" y="195.45" font-size="3.55" font-weight="bold" fill="#00a030" text-anchor="start">_1_c16</text>
<text x="37.50" y="94.40" font-size="3.80" fill="#111" text-anchor="start" stroke="#111" stroke-width="0.14">3.40  7.22</text>
<text x="52.60" y="84.60" font-size="3.80" fill="#111" text-anchor="start" stroke="#111" stroke-width="0.14" textLength="7.50" lengthAdjust="spacingAndGlyphs">7.09</text>
<text x="60.80" y="84.90" font-size="3.80" fill="#111" text-anchor="start" stroke="#111" stroke-width="0.14" textLength="7.50" lengthAdjust="spacingAndGlyphs">8.06</text>
<line x1="61.20" y1="85.40" x2="63.50" y2="85.40" stroke="#60d090" stroke-width="0.45"/>
<text x="63.90" y="89.40" font-size="3.80" fill="#111" text-anchor="start" stroke="#111" stroke-width="0.14" textLength="9.00" lengthAdjust="spacingAndGlyphs">10.50</text>
<line x1="63.90" y1="89.90" x2="66.00" y2="89.90" stroke="#60d090" stroke-width="0.45"/>
<text x="63.90" y="69.00" font-size="3.80" fill="#111" text-anchor="start" stroke="#111" stroke-width="0.14" textLength="7.50" lengthAdjust="spacingAndGlyphs">9.26</text>
<line x1="69.80" y1="69.50" x2="74.00" y2="69.50" stroke="#60d090" stroke-width="0.45"/>
<text x="75.00" y="65.80" font-size="3.80" fill="#111" text-anchor="start" stroke="#111" stroke-width="0.14" textLength="9.00" lengthAdjust="spacingAndGlyphs">10.27</text>
<text x="82.40" y="79.90" font-size="3.80" fill="#111" text-anchor="start" stroke="#111" stroke-width="0.14" textLength="9.00" lengthAdjust="spacingAndGlyphs">13.04</text>
<text x="92.80" y="83.00" font-size="3.80" fill="#111" text-anchor="start" stroke="#111" stroke-width="0.14" textLength="9.00" lengthAdjust="spacingAndGlyphs">25.20</text>
<line x1="88.50" y1="83.50" x2="93.00" y2="83.50" stroke="#60d090" stroke-width="0.45"/>
<text x="94.80" y="90.30" font-size="3.80" fill="#111" text-anchor="start" stroke="#111" stroke-width="0.14" textLength="9.00" lengthAdjust="spacingAndGlyphs">24.26</text>
<text x="104.30" y="80.40" font-size="3.80" fill="#111" text-anchor="start" stroke="#111" stroke-width="0.14" textLength="9.00" lengthAdjust="spacingAndGlyphs">28.32</text>
<text x="115.40" y="85.20" font-size="3.80" fill="#111" text-anchor="start" stroke="#111" stroke-width="0.14" textLength="9.00" lengthAdjust="spacingAndGlyphs">30.39</text>
<text x="121.00" y="91.20" font-size="3.80" fill="#111" text-anchor="start" stroke="#111" stroke-width="0.14" textLength="9.00" lengthAdjust="spacingAndGlyphs">34.87</text>
<text x="139.20" y="91.60" font-size="3.80" fill="#111" text-anchor="start" stroke="#111" stroke-width="0.14" textLength="9.00" lengthAdjust="spacingAndGlyphs">40.75</text>
<line x1="142.00" y1="92.10" x2="147.00" y2="92.10" stroke="#60d090" stroke-width="0.45"/>
<text x="150.60" y="87.30" font-size="3.80" fill="#111" text-anchor="start" stroke="#111" stroke-width="0.14" textLength="9.00" lengthAdjust="spacingAndGlyphs">45.83</text>
<text x="158.50" y="92.00" font-size="3.80" fill="#111" text-anchor="start" stroke="#111" stroke-width="0.14" textLength="9.00" lengthAdjust="spacingAndGlyphs">48.05</text>
<text x="170.40" y="90.00" font-size="3.80" fill="#111" text-anchor="start" stroke="#111" stroke-width="0.14" textLength="9.00" lengthAdjust="spacingAndGlyphs">53.57</text>
<text x="180.70" y="91.10" font-size="3.80" fill="#111" text-anchor="start" stroke="#111" stroke-width="0.14" textLength="9.00" lengthAdjust="spacingAndGlyphs">56.10</text>
<line x1="176.00" y1="91.60" x2="181.00" y2="91.60" stroke="#60d090" stroke-width="0.45"/>
<text x="192.60" y="93.60" font-size="3.80" fill="#111" text-anchor="start" stroke="#111" stroke-width="0.14" textLength="9.00" lengthAdjust="spacingAndGlyphs">58.60</text>
<line x1="186.30" y1="94.10" x2="193.00" y2="94.10" stroke="#60d090" stroke-width="0.45"/>
<text x="204.80" y="92.70" font-size="3.80" fill="#111" text-anchor="start" stroke="#111" stroke-width="0.14" textLength="9.00" lengthAdjust="spacingAndGlyphs">66.25</text>
<text x="220.60" y="90.80" font-size="3.80" fill="#111" text-anchor="start" stroke="#111" stroke-width="0.14" textLength="9.00" lengthAdjust="spacingAndGlyphs">72.35</text>
<text x="232.50" y="93.60" font-size="3.80" fill="#111" text-anchor="start" stroke="#111" stroke-width="0.14" textLength="9.00" lengthAdjust="spacingAndGlyphs">78.55</text>
<line x1="232.50" y1="94.10" x2="245.00" y2="94.10" stroke="#60d090" stroke-width="0.45"/>
<text x="245.20" y="93.60" font-size="3.80" fill="#111" text-anchor="start" stroke="#111" stroke-width="0.14" textLength="9.00" lengthAdjust="spacingAndGlyphs">81.33</text>
<text x="254.20" y="92.40" font-size="3.80" fill="#111" text-anchor="start" stroke="#111" stroke-width="0.14" textLength="9.00" lengthAdjust="spacingAndGlyphs">87.58</text>
<text x="262.90" y="82.20" font-size="3.80" fill="#111" text-anchor="start" stroke="#111" stroke-width="0.14" textLength="9.00" lengthAdjust="spacingAndGlyphs">89.08</text>
<text x="272.50" y="83.80" font-size="3.80" fill="#111" text-anchor="start" stroke="#111" stroke-width="0.14" textLength="9.00" lengthAdjust="spacingAndGlyphs">90.52</text>
<line x1="270.00" y1="84.30" x2="276.50" y2="84.30" stroke="#60d090" stroke-width="0.45"/>
<text x="286.00" y="92.50" font-size="3.80" fill="#111" text-anchor="start" stroke="#111" stroke-width="0.14" textLength="10.30" lengthAdjust="spacingAndGlyphs">100.20</text>
<text x="286.70" y="74.60" font-size="3.80" fill="#111" text-anchor="start" stroke="#111" stroke-width="0.14" textLength="10.30" lengthAdjust="spacingAndGlyphs">100.80</text>
<text x="294.50" y="34.80" font-size="3.80" fill="#111" text-anchor="start" stroke="#111" stroke-width="0.14" textLength="10.30" lengthAdjust="spacingAndGlyphs">105.18</text>
<text x="301.00" y="52.00" font-size="3.80" fill="#111" text-anchor="start" stroke="#111" stroke-width="0.14" textLength="10.30" lengthAdjust="spacingAndGlyphs">105.40</text>
<line x1="299.50" y1="52.50" x2="302.00" y2="52.50" stroke="#60d090" stroke-width="0.45"/>
<text x="303.50" y="77.00" font-size="3.80" fill="#111" text-anchor="start" stroke="#111" stroke-width="0.14" textLength="10.30" lengthAdjust="spacingAndGlyphs">102.05</text>
<text x="303.50" y="82.90" font-size="3.80" fill="#111" text-anchor="start" stroke="#111" stroke-width="0.14" textLength="10.30" lengthAdjust="spacingAndGlyphs">103.47</text>
<text x="305.20" y="90.80" font-size="3.80" fill="#111" text-anchor="start" stroke="#111" stroke-width="0.14" textLength="10.30" lengthAdjust="spacingAndGlyphs">103.19</text>
<line x1="303.50" y1="91.30" x2="306.00" y2="91.30" stroke="#60d090" stroke-width="0.45"/>
<text x="318.60" y="94.50" font-size="3.80" fill="#111" text-anchor="start" stroke="#111" stroke-width="0.14" textLength="10.30" lengthAdjust="spacingAndGlyphs">107.75</text>
<text x="335.00" y="95.10" font-size="3.80" fill="#111" text-anchor="start" stroke="#111" stroke-width="0.14" textLength="10.30" lengthAdjust="spacingAndGlyphs">110.55</text>
<text x="296.00" y="99.80" font-size="3.80" fill="#111" text-anchor="start" stroke="#111" stroke-width="0.14" textLength="10.30" lengthAdjust="spacingAndGlyphs">105.20</text>
<text x="38.70" y="161.10" font-size="3.80" fill="#111" text-anchor="start" stroke="#111" stroke-width="0.14" textLength="7.50" lengthAdjust="spacingAndGlyphs">3.21</text>
<text x="48.20" y="158.60" font-size="3.80" fill="#111" text-anchor="start" stroke="#111" stroke-width="0.14" textLength="7.50" lengthAdjust="spacingAndGlyphs">6.00</text>
<text x="52.30" y="152.40" font-size="3.80" fill="#111" text-anchor="start" stroke="#111" stroke-width="0.14" textLength="7.50" lengthAdjust="spacingAndGlyphs">8.21</text>
<line x1="54.00" y1="152.90" x2="56.50" y2="152.90" stroke="#60d090" stroke-width="0.45"/>
<text x="62.30" y="152.70" font-size="3.80" fill="#111" text-anchor="start" stroke="#111" stroke-width="0.14" textLength="9.00" lengthAdjust="spacingAndGlyphs">10.13</text>
<text x="69.00" y="142.40" font-size="3.80" fill="#111" text-anchor="start" stroke="#111" stroke-width="0.14" textLength="9.00" lengthAdjust="spacingAndGlyphs">15.40</text>
<line x1="73.00" y1="142.90" x2="75.50" y2="142.90" stroke="#60d090" stroke-width="0.45"/>
<text x="75.70" y="129.40" font-size="3.80" fill="#111" text-anchor="start" stroke="#111" stroke-width="0.14" textLength="9.00" lengthAdjust="spacingAndGlyphs">16.26</text>
<text x="82.30" y="144.70" font-size="3.80" fill="#111" text-anchor="start" stroke="#111" stroke-width="0.14" textLength="9.00" lengthAdjust="spacingAndGlyphs">18.05</text>
<text x="89.00" y="149.30" font-size="3.80" fill="#111" text-anchor="start" stroke="#111" stroke-width="0.14" textLength="9.00" lengthAdjust="spacingAndGlyphs">21.27</text>
<line x1="87.00" y1="149.80" x2="89.50" y2="149.80" stroke="#60d090" stroke-width="0.45"/>
<text x="95.60" y="155.80" font-size="3.80" fill="#111" text-anchor="start" stroke="#111" stroke-width="0.14" textLength="9.00" lengthAdjust="spacingAndGlyphs">25.08</text>
<text x="104.30" y="150.50" font-size="3.80" fill="#111" text-anchor="start" stroke="#111" stroke-width="0.14" textLength="9.00" lengthAdjust="spacingAndGlyphs">28.25</text>
<text x="115.40" y="152.10" font-size="3.80" fill="#111" text-anchor="start" stroke="#111" stroke-width="0.14" textLength="9.00" lengthAdjust="spacingAndGlyphs">30.89</text>
<line x1="113.50" y1="152.60" x2="116.50" y2="152.60" stroke="#60d090" stroke-width="0.45"/>
<text x="121.70" y="158.90" font-size="3.80" fill="#111" text-anchor="start" stroke="#111" stroke-width="0.14" textLength="9.00" lengthAdjust="spacingAndGlyphs">34.04</text>
<text x="138.40" y="158.90" font-size="3.80" fill="#111" text-anchor="start" stroke="#111" stroke-width="0.14" textLength="9.00" lengthAdjust="spacingAndGlyphs">40.59</text>
<line x1="141.00" y1="159.40" x2="146.00" y2="159.40" stroke="#60d090" stroke-width="0.45"/>
<text x="149.80" y="155.80" font-size="3.80" fill="#111" text-anchor="start" stroke="#111" stroke-width="0.14" textLength="9.00" lengthAdjust="spacingAndGlyphs">45.05</text>
<text x="170.40" y="157.40" font-size="3.80" fill="#111" text-anchor="start" stroke="#111" stroke-width="0.14" textLength="9.00" lengthAdjust="spacingAndGlyphs">53.06</text>
<text x="181.50" y="157.80" font-size="3.80" fill="#111" text-anchor="start" stroke="#111" stroke-width="0.14" textLength="9.00" lengthAdjust="spacingAndGlyphs">54.67</text>
<line x1="176.00" y1="158.30" x2="181.00" y2="158.30" stroke="#60d090" stroke-width="0.45"/>
<text x="193.40" y="159.40" font-size="3.80" fill="#111" text-anchor="start" stroke="#111" stroke-width="0.14" textLength="9.00" lengthAdjust="spacingAndGlyphs">60.88</text>
<text x="204.80" y="159.30" font-size="3.80" fill="#111" text-anchor="start" stroke="#111" stroke-width="0.14" textLength="9.00" lengthAdjust="spacingAndGlyphs">66.09</text>
<text x="220.60" y="159.30" font-size="3.80" fill="#111" text-anchor="start" stroke="#111" stroke-width="0.14" textLength="9.00" lengthAdjust="spacingAndGlyphs">72.98</text>
<text x="234.90" y="159.70" font-size="3.80" fill="#111" text-anchor="start" stroke="#111" stroke-width="0.14" textLength="9.00" lengthAdjust="spacingAndGlyphs">82.11</text>
<line x1="240.00" y1="160.20" x2="246.00" y2="160.20" stroke="#60d090" stroke-width="0.45"/>
<text x="247.60" y="158.90" font-size="3.80" fill="#111" text-anchor="start" stroke="#111" stroke-width="0.14" textLength="9.00" lengthAdjust="spacingAndGlyphs">85.90</text>
<text x="254.20" y="146.30" font-size="3.80" fill="#111" text-anchor="start" stroke="#111" stroke-width="0.14" textLength="9.00" lengthAdjust="spacingAndGlyphs">89.83</text>
<line x1="261.00" y1="146.80" x2="266.00" y2="146.80" stroke="#60d090" stroke-width="0.45"/>
<text x="264.80" y="143.40" font-size="3.80" fill="#111" text-anchor="start" stroke="#111" stroke-width="0.14" textLength="9.00" lengthAdjust="spacingAndGlyphs">91.84</text>
<text x="271.30" y="154.20" font-size="3.80" fill="#111" text-anchor="start" stroke="#111" stroke-width="0.14" textLength="9.00" lengthAdjust="spacingAndGlyphs">92.05</text>
<text x="286.00" y="139.90" font-size="3.80" fill="#111" text-anchor="start" stroke="#111" stroke-width="0.14" textLength="10.30" lengthAdjust="spacingAndGlyphs">100.95</text>
<line x1="292.00" y1="140.40" x2="296.50" y2="140.40" stroke="#60d090" stroke-width="0.45"/>
<text x="286.00" y="156.60" font-size="3.80" fill="#111" text-anchor="start" stroke="#111" stroke-width="0.14" textLength="10.30" lengthAdjust="spacingAndGlyphs">100.03</text>
<line x1="292.00" y1="157.10" x2="296.50" y2="157.10" stroke="#60d090" stroke-width="0.45"/>
<text x="294.70" y="100.00" font-size="3.80" fill="#111" text-anchor="start" stroke="#111" stroke-width="0.14" textLength="10.30" lengthAdjust="spacingAndGlyphs">105.20</text>
<text x="302.60" y="144.70" font-size="3.80" fill="#111" text-anchor="start" stroke="#111" stroke-width="0.14" textLength="10.30" lengthAdjust="spacingAndGlyphs">102.09</text>
<line x1="302.00" y1="145.20" x2="304.00" y2="145.20" stroke="#60d090" stroke-width="0.45"/>
<text x="304.00" y="151.10" font-size="3.80" fill="#111" text-anchor="start" stroke="#111" stroke-width="0.14" textLength="10.30" lengthAdjust="spacingAndGlyphs">102.69</text>
<line x1="303.00" y1="151.60" x2="305.50" y2="151.60" stroke="#60d090" stroke-width="0.45"/>
<text x="306.20" y="157.90" font-size="3.80" fill="#111" text-anchor="start" stroke="#111" stroke-width="0.14" textLength="10.30" lengthAdjust="spacingAndGlyphs">103.40</text>
<line x1="305.00" y1="158.40" x2="307.50" y2="158.40" stroke="#60d090" stroke-width="0.45"/>
<text x="319.60" y="160.40" font-size="3.80" fill="#111" text-anchor="start" stroke="#111" stroke-width="0.14" textLength="10.30" lengthAdjust="spacingAndGlyphs">107.95</text>
<text x="333.00" y="160.80" font-size="3.80" fill="#111" text-anchor="start" stroke="#111" stroke-width="0.14" textLength="10.30" lengthAdjust="spacingAndGlyphs">110.53</text>
<text x="296.00" y="164.80" font-size="3.80" fill="#111" text-anchor="start" stroke="#111" stroke-width="0.14" textLength="10.30" lengthAdjust="spacingAndGlyphs">105.20</text>
<text x="37.30" y="226.20" font-size="3.80" fill="#111" text-anchor="start" stroke="#111" stroke-width="0.14" textLength="7.50" lengthAdjust="spacingAndGlyphs">3.47</text>
<text x="46.50" y="224.10" font-size="3.80" fill="#111" text-anchor="start" stroke="#111" stroke-width="0.14" textLength="7.50" lengthAdjust="spacingAndGlyphs">7.45</text>
<text x="48.70" y="219.10" font-size="3.80" fill="#111" text-anchor="start" stroke="#111" stroke-width="0.14" textLength="7.50" lengthAdjust="spacingAndGlyphs">7.09</text>
<text x="57.30" y="215.10" font-size="3.80" fill="#111" text-anchor="start" stroke="#111" stroke-width="0.14" textLength="7.50" lengthAdjust="spacingAndGlyphs">9.65</text>
<text x="62.70" y="220.10" font-size="3.80" fill="#111" text-anchor="start" stroke="#111" stroke-width="0.14" textLength="9.00" lengthAdjust="spacingAndGlyphs">11.50</text>
<text x="68.20" y="202.10" font-size="3.80" fill="#111" text-anchor="start" stroke="#111" stroke-width="0.14" textLength="9.00" lengthAdjust="spacingAndGlyphs">15.64</text>
<text x="75.70" y="191.20" font-size="3.80" fill="#111" text-anchor="start" stroke="#111" stroke-width="0.14" textLength="9.00" lengthAdjust="spacingAndGlyphs">16.60</text>
<text x="82.30" y="207.60" font-size="3.80" fill="#111" text-anchor="start" stroke="#111" stroke-width="0.14" textLength="9.00" lengthAdjust="spacingAndGlyphs">18.89</text>
<line x1="89.50" y1="208.10" x2="93.00" y2="208.10" stroke="#60d090" stroke-width="0.45"/>
<text x="92.90" y="208.10" font-size="3.80" fill="#111" text-anchor="start" stroke="#111" stroke-width="0.14" textLength="9.00" lengthAdjust="spacingAndGlyphs">21.20</text>
<text x="95.60" y="220.80" font-size="3.80" fill="#111" text-anchor="start" stroke="#111" stroke-width="0.14" textLength="9.00" lengthAdjust="spacingAndGlyphs">25.17</text>
<text x="104.30" y="212.40" font-size="3.80" fill="#111" text-anchor="start" stroke="#111" stroke-width="0.14" textLength="9.00" lengthAdjust="spacingAndGlyphs">28.37</text>
<text x="115.40" y="216.00" font-size="3.80" fill="#111" text-anchor="start" stroke="#111" stroke-width="0.14" textLength="9.00" lengthAdjust="spacingAndGlyphs">30.37</text>
<text x="121.70" y="223.10" font-size="3.80" fill="#111" text-anchor="start" stroke="#111" stroke-width="0.14" textLength="9.00" lengthAdjust="spacingAndGlyphs">34.83</text>
<text x="138.40" y="223.10" font-size="3.80" fill="#111" text-anchor="start" stroke="#111" stroke-width="0.14" textLength="9.00" lengthAdjust="spacingAndGlyphs">40.73</text>
<line x1="142.00" y1="223.60" x2="147.00" y2="223.60" stroke="#60d090" stroke-width="0.45"/>
<text x="149.80" y="219.20" font-size="3.80" fill="#111" text-anchor="start" stroke="#111" stroke-width="0.14" textLength="9.00" lengthAdjust="spacingAndGlyphs">45.71</text>
<text x="170.00" y="221.10" font-size="3.80" fill="#111" text-anchor="start" stroke="#111" stroke-width="0.14" textLength="9.00" lengthAdjust="spacingAndGlyphs">53.59</text>
<text x="181.50" y="221.10" font-size="3.80" fill="#111" text-anchor="start" stroke="#111" stroke-width="0.14" textLength="9.00" lengthAdjust="spacingAndGlyphs">56.35</text>
<line x1="177.00" y1="221.60" x2="182.00" y2="221.60" stroke="#60d090" stroke-width="0.45"/>
<text x="194.20" y="225.10" font-size="3.80" fill="#111" text-anchor="start" stroke="#111" stroke-width="0.14" textLength="9.00" lengthAdjust="spacingAndGlyphs">66.11</text>
<text x="205.60" y="223.60" font-size="3.80" fill="#111" text-anchor="start" stroke="#111" stroke-width="0.14" textLength="9.00" lengthAdjust="spacingAndGlyphs">67.09</text>
<text x="221.40" y="223.90" font-size="3.80" fill="#111" text-anchor="start" stroke="#111" stroke-width="0.14" textLength="9.00" lengthAdjust="spacingAndGlyphs">73.40</text>
<text x="233.30" y="224.30" font-size="3.80" fill="#111" text-anchor="start" stroke="#111" stroke-width="0.14" textLength="9.00" lengthAdjust="spacingAndGlyphs">79.25</text>
<line x1="238.00" y1="224.80" x2="243.50" y2="224.80" stroke="#60d090" stroke-width="0.45"/>
<text x="244.40" y="223.10" font-size="3.80" fill="#111" text-anchor="start" stroke="#111" stroke-width="0.14" textLength="9.00" lengthAdjust="spacingAndGlyphs">81.58</text>
<text x="254.20" y="223.40" font-size="3.80" fill="#111" text-anchor="start" stroke="#111" stroke-width="0.14" textLength="9.00" lengthAdjust="spacingAndGlyphs">85.20</text>
<text x="258.20" y="204.30" font-size="3.80" fill="#111" text-anchor="start" stroke="#111" stroke-width="0.14" textLength="9.00" lengthAdjust="spacingAndGlyphs">88.88</text>
<line x1="262.00" y1="204.80" x2="266.00" y2="204.80" stroke="#60d090" stroke-width="0.45"/>
<text x="264.50" y="199.50" font-size="3.80" fill="#111" text-anchor="start" stroke="#111" stroke-width="0.14" textLength="9.00" lengthAdjust="spacingAndGlyphs">89.22</text>
<text x="270.90" y="217.70" font-size="3.80" fill="#111" text-anchor="start" stroke="#111" stroke-width="0.14" textLength="9.00" lengthAdjust="spacingAndGlyphs">92.01</text>
<text x="255.00" y="224.10" font-size="3.80" fill="#111" text-anchor="start" stroke="#111" stroke-width="0.14" textLength="9.00" lengthAdjust="spacingAndGlyphs">87.50</text>
<text x="286.70" y="201.90" font-size="3.80" fill="#111" text-anchor="start" stroke="#111" stroke-width="0.14" textLength="10.30" lengthAdjust="spacingAndGlyphs">100.60</text>
<text x="286.90" y="221.30" font-size="3.80" fill="#111" text-anchor="start" stroke="#111" stroke-width="0.14" textLength="9.00" lengthAdjust="spacingAndGlyphs">99.94</text>
<text x="294.70" y="165.40" font-size="3.80" fill="#111" text-anchor="start" stroke="#111" stroke-width="0.14" textLength="10.30" lengthAdjust="spacingAndGlyphs">105.20</text>
<text x="301.70" y="208.00" font-size="3.80" fill="#111" text-anchor="start" stroke="#111" stroke-width="0.14" textLength="10.30" lengthAdjust="spacingAndGlyphs">102.66</text>
<line x1="300.50" y1="208.50" x2="302.50" y2="208.50" stroke="#60d090" stroke-width="0.45"/>
<text x="304.30" y="214.60" font-size="3.80" fill="#111" text-anchor="start" stroke="#111" stroke-width="0.14" textLength="10.30" lengthAdjust="spacingAndGlyphs">103.20</text>
<line x1="302.00" y1="215.10" x2="304.50" y2="215.10" stroke="#60d090" stroke-width="0.45"/>
<text x="307.70" y="223.10" font-size="3.80" fill="#111" text-anchor="start" stroke="#111" stroke-width="0.14" textLength="10.30" lengthAdjust="spacingAndGlyphs">103.85</text>
<line x1="306.00" y1="223.60" x2="308.50" y2="223.60" stroke="#60d090" stroke-width="0.45"/>
<text x="320.60" y="226.00" font-size="3.80" fill="#111" text-anchor="start" stroke="#111" stroke-width="0.14" textLength="10.30" lengthAdjust="spacingAndGlyphs">107.75</text>
<text x="334.70" y="226.40" font-size="3.80" fill="#111" text-anchor="start" stroke="#111" stroke-width="0.14" textLength="10.30" lengthAdjust="spacingAndGlyphs">110.40</text>
<line x1="40.40" y1="265.00" x2="40.40" y2="356.90" stroke="#333" stroke-width="0.80"/>
<line x1="40.00" y1="356.90" x2="241.30" y2="356.90" stroke="#333" stroke-width="0.70"/>
<line x1="38.60" y1="356.90" x2="40.00" y2="356.90" stroke="#444" stroke-width="0.50"/>
<text x="37.40" y="358.60" font-size="4.70" font-weight="bold" fill="#000" text-anchor="end">0</text>
<line x1="38.60" y1="338.52" x2="40.00" y2="338.52" stroke="#444" stroke-width="0.50"/>
<text x="37.40" y="340.22" font-size="4.70" font-weight="bold" fill="#000" text-anchor="end">20</text>
<line x1="38.60" y1="320.14" x2="40.00" y2="320.14" stroke="#444" stroke-width="0.50"/>
<text x="37.40" y="321.84" font-size="4.70" font-weight="bold" fill="#000" text-anchor="end">40</text>
<line x1="38.60" y1="301.76" x2="40.00" y2="301.76" stroke="#444" stroke-width="0.50"/>
<text x="37.40" y="303.46" font-size="4.70" font-weight="bold" fill="#000" text-anchor="end">60</text>
<line x1="38.60" y1="283.38" x2="40.00" y2="283.38" stroke="#444" stroke-width="0.50"/>
<text x="37.40" y="285.08" font-size="4.70" font-weight="bold" fill="#000" text-anchor="end">80</text>
<line x1="38.60" y1="265.00" x2="40.00" y2="265.00" stroke="#444" stroke-width="0.50"/>
<text x="37.40" y="266.70" font-size="4.70" font-weight="bold" fill="#000" text-anchor="end">100</text>
<text x="25.20" y="311.80" font-size="7.45" font-weight="bold" fill="#000" text-anchor="middle" transform="rotate(-90 25.2 311.8)">% of all lipids detected</text>
<rect x="48.20" y="283.38" width="6.80" height="73.52" fill="#1f76bd"/>
<rect x="57.20" y="284.12" width="6.80" height="72.78" fill="#e04848"/>
<rect x="66.20" y="287.42" width="6.80" height="69.48" fill="#6ab04c"/>
<text x="60.60" y="365.00" font-size="5.45" font-weight="bold" fill="#000" text-anchor="middle">Phospholipids</text>
<rect x="88.40" y="344.77" width="6.80" height="12.13" fill="#1f76bd"/>
<rect x="97.40" y="345.87" width="6.80" height="11.03" fill="#e04848"/>
<rect x="106.40" y="346.79" width="6.80" height="10.11" fill="#6ab04c"/>
<text x="100.80" y="365.00" font-size="5.45" font-weight="bold" fill="#000" text-anchor="middle">Sphingolipids</text>
<rect x="128.60" y="354.51" width="6.80" height="2.39" fill="#1f76bd"/>
<rect x="137.60" y="353.22" width="6.80" height="3.68" fill="#e04848"/>
<rect x="146.60" y="354.69" width="6.80" height="2.21" fill="#6ab04c"/>
<text x="141.00" y="365.00" font-size="5.45" font-weight="bold" fill="#000" text-anchor="middle">Glycerolipids</text>
<rect x="168.80" y="352.49" width="6.80" height="4.41" fill="#1f76bd"/>
<rect x="177.80" y="352.03" width="6.80" height="4.87" fill="#e04848"/>
<rect x="186.80" y="346.33" width="6.80" height="10.57" fill="#6ab04c"/>
<text x="181.20" y="365.00" font-size="5.45" font-weight="bold" fill="#000" text-anchor="middle">NEFA</text>
<rect x="209.00" y="356.26" width="6.80" height="0.64" fill="#1f76bd"/>
<rect x="218.00" y="356.35" width="6.80" height="0.55" fill="#e04848"/>
<rect x="227.00" y="356.26" width="6.80" height="0.64" fill="#6ab04c"/>
<text x="221.40" y="365.00" font-size="5.45" font-weight="bold" fill="#000" text-anchor="middle">Sterol lipids</text>
<rect x="183.20" y="272.20" width="2.20" height="2.20" fill="#1f76bd"/>
<text x="187.00" y="275.30" font-size="5.73" font-weight="bold" fill="#000" text-anchor="start">ASC-exosomes #1</text>
<rect x="183.20" y="284.10" width="2.20" height="2.20" fill="#e04848"/>
<text x="187.00" y="287.20" font-size="5.73" font-weight="bold" fill="#000" text-anchor="start">ASC-exosomes #2</text>
<rect x="183.20" y="296.00" width="2.20" height="2.20" fill="#6ab04c"/>
<text x="187.00" y="299.10" font-size="5.73" font-weight="bold" fill="#000" text-anchor="start">ASC-exosomes #3</text>
<path d="M283.00 317.90 L283.00 282.70 A35.20 35.20 0 1 1 248.38 311.52 Z" fill="#fb974a" stroke="#fff" stroke-width="0.6"/>
<path d="M283.00 317.90 L248.38 311.52 A35.20 35.20 0 0 1 261.78 289.82 Z" fill="#0aa7c8" stroke="#fff" stroke-width="0.6"/>
<path d="M283.00 317.90 L261.78 289.82 A35.20 35.20 0 0 1 267.22 286.44 Z" fill="#8a5cb0" stroke="#fff" stroke-width="0.6"/>
<path d="M283.00 317.90 L267.22 286.44 A35.20 35.20 0 0 1 281.67 282.73 Z" fill="#d45a1a" stroke="#fff" stroke-width="0.6"/>
<path d="M283.00 317.90 L281.67 282.73 A35.20 35.20 0 0 1 283.00 282.70 Z" fill="#1a8aa8" stroke="#fff" stroke-width="0.6"/>
<text x="278.80" y="268.80" font-size="7.62" font-weight="bold" fill="#000" text-anchor="start">ASC-exosomes</text>
<text x="295.00" y="336.30" font-size="5.30" font-weight="bold" fill="#222" text-anchor="start">77.9%</text>
<text x="253.10" y="307.90" font-size="5.30" font-weight="bold" fill="#222" text-anchor="start">11.8%</text>
<text x="251.10" y="286.20" font-size="5.30" font-weight="bold" fill="#222" text-anchor="start">2.9%</text>
<text x="257.60" y="275.00" font-size="5.30" font-weight="bold" fill="#222" text-anchor="start">6.8%</text>
<text x="276.10" y="280.40" font-size="5.30" font-weight="bold" fill="#222" text-anchor="start">0.7%</text>
<polyline points="269.6,273.3 272.4,273.3 272.4,282.4" fill="none" stroke="#999" stroke-width="0.4"/>
<polyline points="281.5,277.5 282.2,277.5 282.3,282.8" fill="none" stroke="#999" stroke-width="0.4"/>
<rect x="332.00" y="297.10" width="2.00" height="2.00" fill="#fb974a"/>
<text x="336.10" y="300.00" font-size="5.36" font-weight="bold" fill="#000" text-anchor="start">Phospholipids</text>
<rect x="332.00" y="305.40" width="2.00" height="2.00" fill="#0aa7c8"/>
<text x="336.10" y="308.30" font-size="5.36" font-weight="bold" fill="#000" text-anchor="start">Sphingolipids</text>
<rect x="332.00" y="313.70" width="2.00" height="2.00" fill="#8a5cb0"/>
<text x="336.10" y="316.60" font-size="5.36" font-weight="bold" fill="#000" text-anchor="start">Glycerolipids</text>
<rect x="332.00" y="322.00" width="2.00" height="2.00" fill="#d45a1a"/>
<text x="336.10" y="324.90" font-size="5.36" font-weight="bold" fill="#000" text-anchor="start">NEFA</text>
<rect x="332.00" y="330.30" width="2.00" height="2.00" fill="#1a8aa8"/>
<text x="336.10" y="333.20" font-size="5.36" font-weight="bold" fill="#000" text-anchor="start">Sterol lipids</text>
<line x1="68.40" y1="400.80" x2="68.40" y2="497.70" stroke="#333" stroke-width="0.80"/>
<line x1="66.90" y1="497.70" x2="68.10" y2="497.70" stroke="#333" stroke-width="0.50"/>
<text x="63.10" y="499.50" font-size="5.08" font-weight="bold" fill="#000" text-anchor="end">0%</text>
<line x1="66.90" y1="473.48" x2="68.10" y2="473.48" stroke="#333" stroke-width="0.50"/>
<text x="63.10" y="475.28" font-size="5.08" font-weight="bold" fill="#000" text-anchor="end">50%</text>
<line x1="66.90" y1="449.25" x2="68.10" y2="449.25" stroke="#333" stroke-width="0.50"/>
<text x="63.10" y="451.05" font-size="5.08" font-weight="bold" fill="#000" text-anchor="end">100%</text>
<line x1="66.90" y1="425.02" x2="68.10" y2="425.02" stroke="#333" stroke-width="0.50"/>
<text x="63.10" y="426.82" font-size="5.08" font-weight="bold" fill="#000" text-anchor="end">150%</text>
<line x1="66.90" y1="400.80" x2="68.10" y2="400.80" stroke="#333" stroke-width="0.50"/>
<text x="63.10" y="402.60" font-size="5.08" font-weight="bold" fill="#000" text-anchor="end">200%</text>
<text x="38.00" y="449.30" font-size="7.10" font-weight="bold" fill="#000" text-anchor="middle" transform="rotate(-90 38 449.3)">Median CD9/63/81-APC</text>
<text x="46.50" y="449.30" font-size="7.10" font-weight="bold" fill="#000" text-anchor="middle" transform="rotate(-90 46.5 449.3)">Fluorescence Intensity</text>
<rect x="70.53" y="424.06" width="3.70" height="73.64" fill="#9326ac" stroke="#2e1a36" stroke-width="0.55"/>
<line x1="72.38" y1="424.06" x2="72.38" y2="422.60" stroke="#222" stroke-width="0.50"/>
<line x1="71.08" y1="422.60" x2="73.68" y2="422.60" stroke="#222" stroke-width="0.50"/>
<line x1="75.45" y1="497.70" x2="75.45" y2="499.30" stroke="#222" stroke-width="0.50"/>
<text x="74.38" y="501.50" font-size="6.40" font-weight="bold" fill="#000" text-anchor="end" transform="rotate(-90 74.3756 501.5)">CD63</text>
<rect x="77.88" y="449.25" width="3.70" height="48.45" fill="#9326ac" stroke="#2e1a36" stroke-width="0.55"/>
<line x1="79.73" y1="449.25" x2="79.73" y2="446.83" stroke="#222" stroke-width="0.50"/>
<line x1="78.43" y1="446.83" x2="81.03" y2="446.83" stroke="#222" stroke-width="0.50"/>
<line x1="82.80" y1="497.70" x2="82.80" y2="499.30" stroke="#222" stroke-width="0.50"/>
<text x="81.73" y="501.50" font-size="6.40" font-weight="bold" fill="#000" text-anchor="end" transform="rotate(-90 81.7269 501.5)">CD105</text>
<rect x="85.23" y="454.10" width="3.70" height="43.60" fill="#9326ac" stroke="#2e1a36" stroke-width="0.55"/>
<line x1="87.08" y1="454.10" x2="87.08" y2="448.77" stroke="#222" stroke-width="0.50"/>
<line x1="85.78" y1="448.77" x2="88.38" y2="448.77" stroke="#222" stroke-width="0.50"/>
<line x1="90.15" y1="497.70" x2="90.15" y2="499.30" stroke="#222" stroke-width="0.50"/>
<text x="89.08" y="501.50" font-size="6.40" font-weight="bold" fill="#000" text-anchor="end" transform="rotate(-90 89.0782 501.5)">CD44</text>
<rect x="92.58" y="454.58" width="3.70" height="43.12" fill="#9326ac" stroke="#2e1a36" stroke-width="0.55"/>
<line x1="94.43" y1="454.58" x2="94.43" y2="452.64" stroke="#222" stroke-width="0.50"/>
<line x1="93.13" y1="452.64" x2="95.73" y2="452.64" stroke="#222" stroke-width="0.50"/>
<line x1="97.51" y1="497.70" x2="97.51" y2="499.30" stroke="#222" stroke-width="0.50"/>
<text x="96.43" y="501.50" font-size="6.40" font-weight="bold" fill="#000" text-anchor="end" transform="rotate(-90 96.4295 501.5)">CD81</text>
<rect x="99.93" y="469.11" width="3.70" height="28.59" fill="#9326ac" stroke="#2e1a36" stroke-width="0.55"/>
<line x1="101.78" y1="469.11" x2="101.78" y2="467.66" stroke="#222" stroke-width="0.50"/>
<line x1="100.48" y1="467.66" x2="103.08" y2="467.66" stroke="#222" stroke-width="0.50"/>
<line x1="104.86" y1="497.70" x2="104.86" y2="499.30" stroke="#222" stroke-width="0.50"/>
<text x="103.78" y="501.50" font-size="6.40" font-weight="bold" fill="#000" text-anchor="end" transform="rotate(-90 103.781 501.5)">CD9</text>
<rect x="107.28" y="482.20" width="3.70" height="15.50" fill="#9326ac" stroke="#2e1a36" stroke-width="0.55"/>
<line x1="109.13" y1="482.20" x2="109.13" y2="481.47" stroke="#222" stroke-width="0.50"/>
<line x1="107.83" y1="481.47" x2="110.43" y2="481.47" stroke="#222" stroke-width="0.50"/>
<line x1="112.21" y1="497.70" x2="112.21" y2="499.30" stroke="#222" stroke-width="0.50"/>
<text x="111.13" y="501.50" font-size="6.40" font-weight="bold" fill="#000" text-anchor="end" transform="rotate(-90 111.132 501.5)">CD29</text>
<rect x="114.63" y="485.59" width="3.70" height="12.11" fill="#9326ac" stroke="#2e1a36" stroke-width="0.55"/>
<line x1="116.48" y1="485.59" x2="116.48" y2="484.38" stroke="#222" stroke-width="0.50"/>
<line x1="115.18" y1="484.38" x2="117.78" y2="484.38" stroke="#222" stroke-width="0.50"/>
<line x1="119.56" y1="497.70" x2="119.56" y2="499.30" stroke="#222" stroke-width="0.50"/>
<text x="118.48" y="501.50" font-size="6.40" font-weight="bold" fill="#000" text-anchor="end" transform="rotate(-90 118.483 501.5)">CD49e</text>
<rect x="121.98" y="492.86" width="3.70" height="4.84" fill="#9326ac" stroke="#2e1a36" stroke-width="0.55"/>
<line x1="123.83" y1="492.86" x2="123.83" y2="492.13" stroke="#222" stroke-width="0.50"/>
<line x1="122.53" y1="492.13" x2="125.13" y2="492.13" stroke="#222" stroke-width="0.50"/>
<line x1="126.91" y1="497.70" x2="126.91" y2="499.30" stroke="#222" stroke-width="0.50"/>
<text x="125.83" y="501.50" font-size="6.40" font-weight="bold" fill="#000" text-anchor="end" transform="rotate(-90 125.835 501.5)">MCSP</text>
<rect x="129.34" y="495.76" width="3.70" height="1.94" fill="#9326ac" stroke="#2e1a36" stroke-width="0.55"/>
<line x1="131.19" y1="495.76" x2="131.19" y2="495.28" stroke="#222" stroke-width="0.50"/>
<line x1="129.89" y1="495.28" x2="132.49" y2="495.28" stroke="#222" stroke-width="0.50"/>
<line x1="134.26" y1="497.70" x2="134.26" y2="499.30" stroke="#222" stroke-width="0.50"/>
<text x="133.19" y="501.50" font-size="6.40" font-weight="bold" fill="#000" text-anchor="end" transform="rotate(-90 133.186 501.5)">SSEA-4</text>
<rect x="136.69" y="496.73" width="3.70" height="0.97" fill="#9326ac" stroke="#2e1a36" stroke-width="0.55"/>
<line x1="141.61" y1="497.70" x2="141.61" y2="499.30" stroke="#222" stroke-width="0.50"/>
<text x="140.54" y="501.50" font-size="6.40" font-weight="bold" fill="#000" text-anchor="end" transform="rotate(-90 140.537 501.5)">CD41b</text>
<rect x="144.04" y="497.07" width="3.70" height="0.63" fill="#9326ac" stroke="#2e1a36" stroke-width="0.55"/>
<line x1="148.96" y1="497.70" x2="148.96" y2="499.30" stroke="#222" stroke-width="0.50"/>
<text x="147.89" y="501.50" font-size="6.40" font-weight="bold" fill="#000" text-anchor="end" transform="rotate(-90 147.888 501.5)">CD142</text>
<rect x="151.39" y="497.17" width="3.70" height="0.53" fill="#9326ac" stroke="#2e1a36" stroke-width="0.55"/>
<line x1="156.32" y1="497.70" x2="156.32" y2="499.30" stroke="#222" stroke-width="0.50"/>
<text x="155.24" y="501.50" font-size="6.40" font-weight="bold" fill="#000" text-anchor="end" transform="rotate(-90 155.24 501.5)">CD209</text>
<rect x="158.74" y="497.17" width="3.70" height="0.53" fill="#9326ac" stroke="#2e1a36" stroke-width="0.55"/>
<line x1="163.67" y1="497.70" x2="163.67" y2="499.30" stroke="#222" stroke-width="0.50"/>
<text x="162.59" y="501.50" font-size="6.40" font-weight="bold" fill="#000" text-anchor="end" transform="rotate(-90 162.591 501.5)">CD326</text>
<rect x="166.09" y="497.17" width="3.70" height="0.53" fill="#9326ac" stroke="#2e1a36" stroke-width="0.55"/>
<line x1="171.02" y1="497.70" x2="171.02" y2="499.30" stroke="#222" stroke-width="0.50"/>
<text x="169.94" y="501.50" font-size="6.40" font-weight="bold" fill="#000" text-anchor="end" transform="rotate(-90 169.942 501.5)">CD25</text>
<rect x="173.44" y="497.17" width="3.70" height="0.53" fill="#9326ac" stroke="#2e1a36" stroke-width="0.55"/>
<line x1="178.37" y1="497.70" x2="178.37" y2="499.30" stroke="#222" stroke-width="0.50"/>
<text x="177.29" y="501.50" font-size="6.40" font-weight="bold" fill="#000" text-anchor="end" transform="rotate(-90 177.294 501.5)">CD86</text>
<rect x="180.79" y="497.17" width="3.70" height="0.53" fill="#9326ac" stroke="#2e1a36" stroke-width="0.55"/>
<line x1="185.72" y1="497.70" x2="185.72" y2="499.30" stroke="#222" stroke-width="0.50"/>
<text x="184.64" y="501.50" font-size="6.40" font-weight="bold" fill="#000" text-anchor="end" transform="rotate(-90 184.645 501.5)">CD133/1</text>
<rect x="188.15" y="497.17" width="3.70" height="0.53" fill="#9326ac" stroke="#2e1a36" stroke-width="0.55"/>
<line x1="193.07" y1="497.70" x2="193.07" y2="499.30" stroke="#222" stroke-width="0.50"/>
<text x="192.00" y="501.50" font-size="6.40" font-weight="bold" fill="#000" text-anchor="end" transform="rotate(-90 191.996 501.5)">CD3</text>
<rect x="195.50" y="497.17" width="3.70" height="0.53" fill="#9326ac" stroke="#2e1a36" stroke-width="0.55"/>
<line x1="200.42" y1="497.70" x2="200.42" y2="499.30" stroke="#222" stroke-width="0.50"/>
<text x="199.35" y="501.50" font-size="6.40" font-weight="bold" fill="#000" text-anchor="end" transform="rotate(-90 199.347 501.5)">ROR1</text>
<rect x="202.85" y="497.12" width="3.70" height="0.58" fill="#9326ac" stroke="#2e1a36" stroke-width="0.55"/>
<line x1="207.77" y1="497.70" x2="207.77" y2="499.30" stroke="#222" stroke-width="0.50"/>
<text x="206.70" y="501.50" font-size="6.40" font-weight="bold" fill="#000" text-anchor="end" transform="rotate(-90 206.699 501.5)">CD14</text>
<rect x="210.20" y="497.12" width="3.70" height="0.58" fill="#9326ac" stroke="#2e1a36" stroke-width="0.55"/>
<line x1="215.13" y1="497.70" x2="215.13" y2="499.30" stroke="#222" stroke-width="0.50"/>
<text x="214.05" y="501.50" font-size="6.40" font-weight="bold" fill="#000" text-anchor="end" transform="rotate(-90 214.05 501.5)">CD24</text>
<rect x="217.55" y="497.12" width="3.70" height="0.58" fill="#9326ac" stroke="#2e1a36" stroke-width="0.55"/>
<line x1="222.48" y1="497.70" x2="222.48" y2="499.30" stroke="#222" stroke-width="0.50"/>
<text x="221.40" y="501.50" font-size="6.40" font-weight="bold" fill="#000" text-anchor="end" transform="rotate(-90 221.401 501.5)">CD45</text>
<rect x="224.90" y="497.17" width="3.70" height="0.53" fill="#9326ac" stroke="#2e1a36" stroke-width="0.55"/>
<line x1="229.83" y1="497.70" x2="229.83" y2="499.30" stroke="#222" stroke-width="0.50"/>
<text x="228.75" y="501.50" font-size="6.40" font-weight="bold" fill="#000" text-anchor="end" transform="rotate(-90 228.753 501.5)">CD2</text>
<rect x="232.25" y="496.97" width="3.70" height="0.73" fill="#9326ac" stroke="#2e1a36" stroke-width="0.55"/>
<line x1="237.18" y1="497.70" x2="237.18" y2="499.30" stroke="#222" stroke-width="0.50"/>
<text x="236.10" y="501.50" font-size="6.40" font-weight="bold" fill="#000" text-anchor="end" transform="rotate(-90 236.104 501.5)">CD56</text>
<rect x="239.61" y="497.17" width="3.70" height="0.53" fill="#9326ac" stroke="#2e1a36" stroke-width="0.55"/>
<line x1="244.53" y1="497.70" x2="244.53" y2="499.30" stroke="#222" stroke-width="0.50"/>
<text x="243.46" y="501.50" font-size="6.40" font-weight="bold" fill="#000" text-anchor="end" transform="rotate(-90 243.455 501.5)">HLA-DRDPDQ</text>
<rect x="246.96" y="497.17" width="3.70" height="0.53" fill="#9326ac" stroke="#2e1a36" stroke-width="0.55"/>
<line x1="251.88" y1="497.70" x2="251.88" y2="499.30" stroke="#222" stroke-width="0.50"/>
<text x="250.81" y="501.50" font-size="6.40" font-weight="bold" fill="#000" text-anchor="end" transform="rotate(-90 250.806 501.5)">CD19</text>
<rect x="254.31" y="497.17" width="3.70" height="0.53" fill="#9326ac" stroke="#2e1a36" stroke-width="0.55"/>
<line x1="259.23" y1="497.70" x2="259.23" y2="499.30" stroke="#222" stroke-width="0.50"/>
<text x="258.16" y="501.50" font-size="6.40" font-weight="bold" fill="#000" text-anchor="end" transform="rotate(-90 258.158 501.5)">CD146</text>
<rect x="261.66" y="497.17" width="3.70" height="0.53" fill="#9326ac" stroke="#2e1a36" stroke-width="0.55"/>
<line x1="266.58" y1="497.70" x2="266.58" y2="499.30" stroke="#222" stroke-width="0.50"/>
<text x="265.51" y="501.50" font-size="6.40" font-weight="bold" fill="#000" text-anchor="end" transform="rotate(-90 265.509 501.5)">CD1c</text>
<rect x="269.01" y="497.17" width="3.70" height="0.53" fill="#9326ac" stroke="#2e1a36" stroke-width="0.55"/>
<line x1="273.94" y1="497.70" x2="273.94" y2="499.30" stroke="#222" stroke-width="0.50"/>
<text x="272.86" y="501.50" font-size="6.40" font-weight="bold" fill="#000" text-anchor="end" transform="rotate(-90 272.86 501.5)">CD40</text>
<rect x="276.36" y="497.17" width="3.70" height="0.53" fill="#9326ac" stroke="#2e1a36" stroke-width="0.55"/>
<line x1="281.29" y1="497.70" x2="281.29" y2="499.30" stroke="#222" stroke-width="0.50"/>
<text x="280.21" y="501.50" font-size="6.40" font-weight="bold" fill="#000" text-anchor="end" transform="rotate(-90 280.212 501.5)">HLA-ABC</text>
<rect x="283.71" y="497.17" width="3.70" height="0.53" fill="#9326ac" stroke="#2e1a36" stroke-width="0.55"/>
<line x1="288.64" y1="497.70" x2="288.64" y2="499.30" stroke="#222" stroke-width="0.50"/>
<text x="287.56" y="501.50" font-size="6.40" font-weight="bold" fill="#000" text-anchor="end" transform="rotate(-90 287.563 501.5)">CD31</text>
<rect x="291.06" y="497.17" width="3.70" height="0.53" fill="#9326ac" stroke="#2e1a36" stroke-width="0.55"/>
<line x1="295.99" y1="497.70" x2="295.99" y2="499.30" stroke="#222" stroke-width="0.50"/>
<text x="294.91" y="501.50" font-size="6.40" font-weight="bold" fill="#000" text-anchor="end" transform="rotate(-90 294.914 501.5)">CD20</text>
<rect x="298.42" y="497.17" width="3.70" height="0.53" fill="#9326ac" stroke="#2e1a36" stroke-width="0.55"/>
<line x1="303.34" y1="497.70" x2="303.34" y2="499.30" stroke="#222" stroke-width="0.50"/>
<text x="302.27" y="501.50" font-size="6.40" font-weight="bold" fill="#000" text-anchor="end" transform="rotate(-90 302.265 501.5)">CD4</text>
<rect x="305.77" y="497.17" width="3.70" height="0.53" fill="#9326ac" stroke="#2e1a36" stroke-width="0.55"/>
<line x1="310.69" y1="497.70" x2="310.69" y2="499.30" stroke="#222" stroke-width="0.50"/>
<text x="309.62" y="501.50" font-size="6.40" font-weight="bold" fill="#000" text-anchor="end" transform="rotate(-90 309.617 501.5)">CD11c</text>
<rect x="313.12" y="497.17" width="3.70" height="0.53" fill="#9326ac" stroke="#2e1a36" stroke-width="0.55"/>
<line x1="318.04" y1="497.70" x2="318.04" y2="499.30" stroke="#222" stroke-width="0.50"/>
<text x="316.97" y="501.50" font-size="6.40" font-weight="bold" fill="#000" text-anchor="end" transform="rotate(-90 316.968 501.5)">CD42a</text>
<rect x="320.47" y="497.17" width="3.70" height="0.53" fill="#9326ac" stroke="#2e1a36" stroke-width="0.55"/>
<line x1="325.39" y1="497.70" x2="325.39" y2="499.30" stroke="#222" stroke-width="0.50"/>
<text x="324.32" y="501.50" font-size="6.40" font-weight="bold" fill="#000" text-anchor="end" transform="rotate(-90 324.319 501.5)">CD62P</text>
<rect x="327.82" y="497.17" width="3.70" height="0.53" fill="#9326ac" stroke="#2e1a36" stroke-width="0.55"/>
<line x1="332.75" y1="497.70" x2="332.75" y2="499.30" stroke="#222" stroke-width="0.50"/>
<text x="331.67" y="501.50" font-size="6.40" font-weight="bold" fill="#000" text-anchor="end" transform="rotate(-90 331.671 501.5)">CD69</text>
<rect x="335.17" y="497.17" width="3.70" height="0.53" fill="#9326ac" stroke="#2e1a36" stroke-width="0.55"/>
<line x1="340.10" y1="497.70" x2="340.10" y2="499.30" stroke="#222" stroke-width="0.50"/>
<text x="339.02" y="501.50" font-size="6.40" font-weight="bold" fill="#000" text-anchor="end" transform="rotate(-90 339.022 501.5)">CD8</text>
<rect x="342.52" y="497.17" width="3.70" height="0.53" fill="#9326ac" stroke="#2e1a36" stroke-width="0.55"/>
<line x1="347.45" y1="497.70" x2="347.45" y2="499.30" stroke="#222" stroke-width="0.50"/>
<text x="346.37" y="501.50" font-size="6.40" font-weight="bold" fill="#000" text-anchor="end" transform="rotate(-90 346.373 501.5)">REA control</text>
<rect x="349.87" y="497.17" width="3.70" height="0.53" fill="#9326ac" stroke="#2e1a36" stroke-width="0.55"/>
<line x1="354.80" y1="497.70" x2="354.80" y2="499.30" stroke="#222" stroke-width="0.50"/>
<text x="353.72" y="501.50" font-size="6.40" font-weight="bold" fill="#000" text-anchor="end" transform="rotate(-90 353.724 501.5)">mIgG1 control</text>
<line x1="68.10" y1="497.50" x2="354.80" y2="497.50" stroke="#1a1a1a" stroke-width="0.90"/>
</svg>
</body></html>
